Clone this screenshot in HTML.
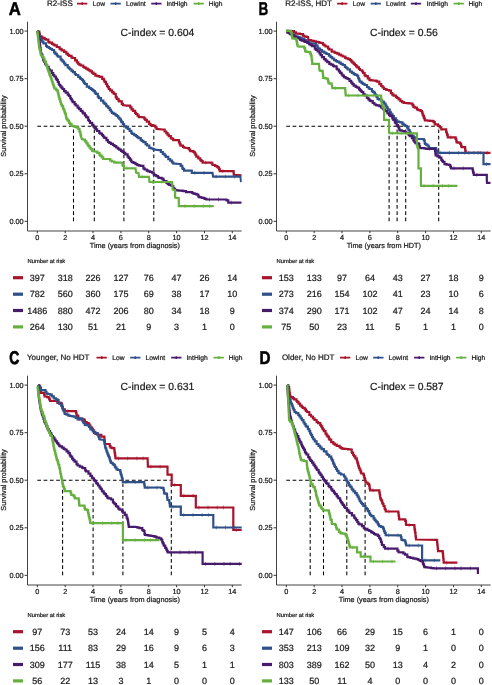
<!DOCTYPE html><html><head><meta charset="utf-8"><style>html,body{margin:0;padding:0;background:#fff;}svg{display:block;will-change:transform;text-rendering:geometricPrecision}</style></head><body><svg width="492" height="685" viewBox="0 0 492 685" font-family="Liberation Sans, sans-serif">
<defs><clipPath id="clip"><rect x="27.3" y="21.7" width="214.4" height="209.1"/></clipPath></defs>
<rect width="492" height="685" fill="#fff"/>
<style>.p text{stroke:currentColor;stroke-width:0.22px}</style>
<g class="p" transform="translate(0,0)" style="color:#1a1a1a">
<path d="M27.5 21.7V231H241.7" fill="none" stroke="#444" stroke-width="1"/>
<path d="M24.6 221.3H27.5" stroke="#333" stroke-width="1"/>
<text x="23.6" y="223.8" font-size="7.3" text-anchor="end" fill="#222">0.00</text>
<path d="M24.6 173.8H27.5" stroke="#333" stroke-width="1"/>
<text x="23.6" y="176.2" font-size="7.3" text-anchor="end" fill="#222">0.25</text>
<path d="M24.6 126.2H27.5" stroke="#333" stroke-width="1"/>
<text x="23.6" y="128.7" font-size="7.3" text-anchor="end" fill="#222">0.50</text>
<path d="M24.6 78.7H27.5" stroke="#333" stroke-width="1"/>
<text x="23.6" y="81.2" font-size="7.3" text-anchor="end" fill="#222">0.75</text>
<path d="M24.6 31.1H27.5" stroke="#333" stroke-width="1"/>
<text x="23.6" y="33.6" font-size="7.3" text-anchor="end" fill="#222">1.00</text>
<path d="M37.3 231V233.2" stroke="#333" stroke-width="1"/>
<text x="37.3" y="240.1" font-size="7.3" text-anchor="middle" fill="#222">0</text>
<path d="M65.2 231V233.2" stroke="#333" stroke-width="1"/>
<text x="65.2" y="240.1" font-size="7.3" text-anchor="middle" fill="#222">2</text>
<path d="M93 231V233.2" stroke="#333" stroke-width="1"/>
<text x="93" y="240.1" font-size="7.3" text-anchor="middle" fill="#222">4</text>
<path d="M120.9 231V233.2" stroke="#333" stroke-width="1"/>
<text x="120.9" y="240.1" font-size="7.3" text-anchor="middle" fill="#222">6</text>
<path d="M148.7 231V233.2" stroke="#333" stroke-width="1"/>
<text x="148.7" y="240.1" font-size="7.3" text-anchor="middle" fill="#222">8</text>
<path d="M176.6 231V233.2" stroke="#333" stroke-width="1"/>
<text x="176.6" y="240.1" font-size="7.3" text-anchor="middle" fill="#222">10</text>
<path d="M204.5 231V233.2" stroke="#333" stroke-width="1"/>
<text x="204.5" y="240.1" font-size="7.3" text-anchor="middle" fill="#222">12</text>
<path d="M232.3 231V233.2" stroke="#333" stroke-width="1"/>
<text x="232.3" y="240.1" font-size="7.3" text-anchor="middle" fill="#222">14</text>
<text x="134.8" y="248.3" font-size="7.3" text-anchor="middle" fill="#1a1a1a">Time (years from diagnosis)</text>
<text transform="translate(6.4,126) rotate(-90)" x="0" y="0" font-size="7.3" text-anchor="middle" fill="#1a1a1a">Survival probability</text>
<text x="47" y="6.4" font-size="8" fill="#1a1a1a">R2-ISS</text>
<path d="M77 3.6h10.3M82.2 2.3v2.6" stroke="#a8142c" stroke-width="1.6"/>
<text x="92.8" y="6.4" font-size="6.7" fill="#1a1a1a">Low</text>
<path d="M110.5 3.6h10.3M115.7 2.3v2.6" stroke="#2f5088" stroke-width="1.6"/>
<text x="126" y="6.4" font-size="6.7" fill="#1a1a1a">LowInt</text>
<path d="M151.2 3.6h10.3M156.3 2.3v2.6" stroke="#481a6c" stroke-width="1.6"/>
<text x="166.4" y="6.4" font-size="6.7" fill="#1a1a1a">IntHigh</text>
<path d="M193.5 3.6h10.3M198.7 2.3v2.6" stroke="#66b03f" stroke-width="1.6"/>
<text x="208.8" y="6.4" font-size="6.7" fill="#1a1a1a">High</text>
<text x="120.6" y="36.1" font-size="10.4" fill="#1a1a1a">C-index = 0.604</text>
<path d="M37.3 126.2H153.8" stroke="#000" stroke-width="1.05" stroke-dasharray="3.7 2.6" fill="none"/>
<path d="M73.5 221.3V126.2" stroke="#000" stroke-width="1.05" stroke-dasharray="3.7 2.6" fill="none"/>
<path d="M94.3 221.3V126.2" stroke="#000" stroke-width="1.05" stroke-dasharray="3.7 2.6" fill="none"/>
<path d="M123.9 221.3V126.2" stroke="#000" stroke-width="1.05" stroke-dasharray="3.7 2.6" fill="none"/>
<path d="M153.8 221.3V126.2" stroke="#000" stroke-width="1.05" stroke-dasharray="3.7 2.6" fill="none"/>
<g clip-path="url(#clip)">
<path d="M37.3 31.1 39.1 31.7 39.3 31.7 39.3 33 39.5 33 39.5 34 39.8 34 39.8 36 40.6 36 40.6 36.6 42.2 36.6 42.2 37.8 44.6 37.8 44.6 39 45.9 39 45.9 39.6 48.4 39.6 48.4 41.8 49.5 41.8 49.5 42.7 51.9 42.7 51.9 43.9 53.2 43.9 53.2 44.5 54.5 44.5 54.5 45.4 56.8 45.4 56.8 47 59.5 47 59.5 48.7 60.5 48.7 60.5 49.4 61.8 49.4 61.8 50.3 64.1 50.3 64.1 51.8 66.3 51.8 66.3 53.6 67.8 53.6 67.8 54.9 69.1 54.9 69.1 55.8 71.5 55.8 71.5 57.3 72.4 57.3 72.4 58 75.1 58 75.1 60.4 76.9 60.4 76.9 62.4 78.3 62.4 78.3 64 79.3 64 79.3 64.6 80.7 64.6 80.7 65.5 83.3 65.5 83.3 67 84.4 67 84.4 67.7 86 67.7 86 68.6 87.7 68.6 87.7 69.7 89 69.7 89 70.4 90.5 70.4 90.5 71.3 92 71.3 92 72.6 93.4 72.6 93.4 73.9 95.4 73.9 95.4 75.6 97.4 75.6 97.4 76.1 98.9 76.1 98.9 76.5 100.2 76.5 100.2 76.8 102.2 76.8 102.2 78.8 103.9 78.8 103.9 80.5 104.6 80.5 104.6 81.8 105.9 81.8 105.9 84 107.1 84 107.1 86 107.8 86 107.8 87.2 108.8 87.2 108.8 89 110.1 89 110.1 90.3 112 90.3 112 92.2 113.5 92.2 113.5 93.3 114.4 93.3 114.4 94 115.7 94 115.7 96.6 116.1 96.6 116.1 97.4 116.8 97.4 116.8 98.9 118.5 98.9 118.5 100.6 119.3 100.6 119.3 101.3 121.8 101.3 121.8 103.8 122.9 103.8 122.9 105 126.6 105.6 129 105.6 130.2 105.6 130.2 107.4 131.5 107.4 131.5 109.3 133 109.3 133 110.8 135.1 110.8 135.1 112.9 136 112.9 136 114 137.5 114 137.5 115.7 138.8 115.7 138.8 117.2 142.4 117.2 143.2 117.3 144.3 117.3 144.3 118.7 145.3 118.7 145.3 119.8 146.8 119.8 146.8 121.6 149.1 121.6 149.1 123.8 150.5 123.8 150.5 125.2 153.1 125.2 153.1 125.7 154.1 125.7 154.1 125.9 155.4 125.9 155.4 127.4 156.6 127.4 156.6 128.9 162.7 129.5 164.6 129.5 164.6 131.5 166.3 131.5 166.3 133.2 167.5 133.2 167.5 134.6 168.8 134.6 168.8 136.2 170.8 136.2 170.8 138.1 171.6 138.1 171.6 138.7 173.2 138.7 173.2 140.2 178 140.2 178.9 140.2 178.9 142.3 179.8 142.3 179.8 144.1 180.5 144.1 180.5 145.7 183 145.7 183 147 184.1 147 184.1 147.6 187.8 148.2 188.9 148.2 188.9 149.5 190.2 149.5 190.2 151.2 193 151.2 193 151.6 193.9 151.6 193.9 151.8 194.6 151.8 194.6 153.1 195.3 153.1 195.3 154.6 196.3 154.6 196.3 156.7 198.3 156.7 198.3 158.4 200.3 158.4 200.3 160.1 201.4 160.1 201.4 161.2 202.7 161.2 202.7 162.6 211.3 162.6 211.7 162.6 211.7 163.5 212.5 163.5 212.5 165 215.1 165 215.1 165.9 216.1 165.9 216.1 166.2 217.3 166.2 217.3 167.1 218.6 167.1 218.6 168 219.1 168 219.1 169.3 219.8 169.3 219.8 171.1 233.2 171.1 233.6 171.1 233.6 173.3 233.8 173.3 233.8 174.8 241.7 175.4" fill="none" stroke="#a8142c" stroke-width="2.2" stroke-linejoin="miter"/>
<path d="M205.7 160.7v3.8M222.8 169.2v3.8" stroke="#a8142c" stroke-width="0.6" fill="none"/>
<path d="M37.3 31.1 37.5 31.1 37.5 31.7 38 31.7 38 33.1 38.4 33.1 38.4 34.4 39 34.4 39 36 39.8 36 39.8 38.4 41.1 38.4 41.1 40.2 42.2 40.2 42.2 41.6 43.4 41.6 43.4 43.3 46.1 43.3 46.1 46 47.1 46 47.1 47 48.8 47 48.8 48 50.3 48 50.3 49 52 49 52 50 54.1 50 54.1 52.4 55.4 52.4 55.4 53.9 56.8 53.9 56.8 55.5 58 55.5 58 56.7 60.6 56.7 60.6 59.3 61.7 59.3 61.7 60.4 62.7 60.4 62.7 61.7 64.1 61.7 64.1 63.5 65.4 63.5 65.4 65.2 67.7 65.2 67.7 67.3 69.1 67.3 69.1 68.5 70.2 68.5 70.2 69.5 71.6 69.5 71.6 70.8 72.9 70.8 72.9 72.1 74.9 72.1 74.9 74 75.9 74 75.9 75 78.2 75 78.2 76.8 80 76.8 80 78.3 80.9 78.3 80.9 79 82 79 82 79.9 83.1 79.9 83.1 81.4 84.2 81.4 84.2 83 84.9 83 84.9 84 86.8 84 86.8 86.6 89.2 86.6 89.2 88 90.7 88 90.7 88.9 92.1 88.9 92.1 89.8 92.9 89.8 92.9 90.2 93.6 90.2 93.6 91.1 94.8 91.1 94.8 92.6 95.8 92.6 95.8 93.8 97.8 93.8 97.8 96.3 98.5 96.3 98.5 97.3 99.1 97.3 99.1 98.1 101 98.1 101 100.7 103.3 100.7 103.3 102.7 104.6 102.7 104.6 103.8 106.1 103.8 106.1 105.6 106.8 105.6 106.8 106.3 108.3 106.3 108.3 108 109.7 108 109.7 109.8 110.9 109.8 110.9 111.5 112 111.5 112 112.9 113.6 112.9 113.6 113.9 115.5 113.9 115.5 115.1 116.8 115.1 116.8 116 118.1 116 118.1 117.5 119.2 117.5 119.2 118.7 120.5 118.7 120.5 120.2 121.1 120.2 121.1 121.3 121.7 121.3 121.7 122.2 122.8 122.2 122.8 124.1 124.1 124.1 124.1 126.3 126 126.3 126 127.6 127.8 127.6 127.8 128.8 129.6 128.8 129.6 130.9 131.3 130.9 131.3 132.8 132.2 132.8 132.2 133.8 134.2 133.8 134.2 135.1 135.9 135.1 135.9 136.2 137.2 136.2 137.2 137.2 138.5 137.2 138.5 138.2 140.7 138.2 140.7 139.9 141.7 139.9 141.7 140.8 143.4 140.8 143.4 142.2 145.6 142.2 145.6 144.1 147 144.1 147 145.5 149.3 145.5 149.3 147.8 151.2 147.8 151.2 148.5 153.1 148.5 153.1 149.2 154.1 149.2 154.1 149.6 159 150.2 160.9 150.2 160.9 152 162.8 152 162.8 153.8 164.6 153.8 164.6 155.5 165.9 155.5 165.9 156.8 168.3 156.8 168.3 159.1 170.2 159.1 170.2 160.7 172 160.7 172 162.3 173.2 162.3 173.2 163.4 179.3 164 180.7 164 180.7 165.9 182.3 165.9 182.3 168.1 182.9 168.1 182.9 168.9 184.1 168.9 184.1 170.7 190.2 170.7 191.8 170.7 191.8 172.9 212.5 172.9 213.1 176.6 240.5 176.6 241.1 182.1" fill="none" stroke="#2f5088" stroke-width="2.2" stroke-linejoin="miter"/>
<path d="M194.8 171v3.8M204 171v3.8M216.1 174.7v3.8M225.3 174.7v3.8M234.5 174.7v3.8" stroke="#2f5088" stroke-width="0.6" fill="none"/>
<path d="M37.3 31.1 37.7 31.1 37.7 33.1 38.2 33.1 38.2 35.1 38.5 35.1 38.5 36.6 38.7 36.6 38.7 37.5 39.1 37.5 39.1 39.6 39.3 39.6 39.3 40.8 39.6 40.8 39.6 42.9 39.9 42.9 39.9 45.2 40.1 45.2 40.1 46.5 40.3 46.5 40.3 47.9 40.6 47.9 40.6 50.2 40.9 50.2 40.9 52.1 41 52.1 41 53 41.3 53 41.3 53.9 41.6 53.9 41.6 54.8 42.4 54.8 42.4 57.2 43.1 57.2 43.1 59.5 43.4 59.5 43.4 60.4 44.2 60.4 44.2 62 45.2 62 45.2 63.8 45.9 63.8 45.9 65.2 47.1 65.2 47.1 66.9 48.7 66.9 48.7 69 49.5 69 49.5 70.1 50 70.1 50 70.7 51.8 70.7 51.8 73.2 53.2 73.2 53.2 75 54.3 75 54.3 76.5 55.8 76.5 55.8 78.6 56.8 78.6 56.8 79.9 57.8 79.9 57.8 82 58.8 82 58.8 84 59.3 84 59.3 85 60.3 85 60.3 86.3 61.4 86.3 61.4 87.7 62.5 87.7 62.5 89 64.1 89 64.1 91.1 65.7 91.1 65.7 92.7 67.7 92.7 67.7 94.7 69 94.7 69 96 70.3 96 70.3 98.1 71 98.1 71 99.2 71.8 99.2 71.8 100.6 72.7 100.6 72.7 102.1 74.6 102.1 74.6 104.2 75.7 104.2 75.7 105.5 77.6 105.5 77.6 107.6 79.2 107.6 79.2 109.2 80.8 109.2 80.8 110.8 82.4 110.8 82.4 112.4 83.2 112.4 83.2 113.3 84.9 113.3 84.9 115.3 86.1 115.3 86.1 116.7 86.6 116.7 86.6 117.4 88.2 117.4 88.2 119.9 88.9 119.9 88.9 121 90 121 90 122.8 92.2 122.8 92.2 124.9 93.5 124.9 93.5 126.6 94.5 126.6 94.5 127.8 95.8 127.8 95.8 129.4 97.1 129.4 97.1 131 99.3 131 99.3 132.9 100.2 132.9 100.2 133.7 102 133.7 102 135.2 103.1 135.2 103.1 136.5 104.3 136.5 104.3 137.8 106.4 137.8 106.4 140.2 108 140.2 108 142 109.4 142 109.4 142.8 111 142.8 111 143.8 112.9 143.8 112.9 145 114.4 145 114.4 146.1 116.2 146.1 116.2 147.5 117.8 147.5 117.8 148.7 119.3 148.7 119.3 149.7 121 149.7 121 150.9 122.4 150.9 122.4 151.9 123.9 151.9 123.9 152.9 125.3 152.9 125.3 154.3 127.6 154.3 127.6 156.6 128.7 156.6 128.7 158 129.9 158 129.9 159.7 131.2 159.7 131.2 161.5 132.1 161.5 132.1 162.1 133.5 162.1 133.5 162.9 135.5 162.9 135.5 164.1 137.3 164.1 137.3 165.2 139.2 165.2 139.2 165.6 141 165.6 141 165.9 143.4 165.9 143.4 168.3 144.6 168.3 144.6 169.5 146.8 169.5 146.8 170.6 148.3 170.6 148.3 171.3 150.1 171.3 150.1 171.9 152 171.9 152 172.6 153.7 172.6 153.7 174.3 154.4 174.3 154.4 175 156.2 175 156.2 176.2 158 176.2 158 177.4 159 177.4 159 177.8 161.7 177.8 161.7 178.7 163.4 178.7 163.4 180.4 164.1 180.4 164.1 181.1 166.5 181.1 166.5 183 167.8 183 167.8 184.1 169.2 184.1 169.2 184.8 171.5 184.8 171.5 186 173.2 186 173.2 188 174 188 174 188.9 175.1 188.9 175.1 190.2 176.7 190.2 176.7 190.4 178.1 190.4 178.1 190.5 179.1 190.5 179.1 190.6 180.3 190.6 180.3 190.7 182.4 190.7 182.4 190.9 183.5 190.9 183.5 191.2 186.1 191.2 186.1 192.1 190.5 192.1 192.2 192.1 192.2 193 193 193 193 193.4 194.5 193.4 194.5 193.9 196.6 193.9 196.6 194.6 198.3 194.6 198.3 196.3 199.1 196.3 199.1 197.1 200.8 197.1 200.8 197.5 202.3 197.5 202.3 197.9 204 197.9 204 198.3 205 198.3 205 198.8 206.4 198.8 206.4 199.5 225.9 199.5 226.5 199.5 226.5 200.3 228.3 200.3 228.3 202.6 241.7 202.6" fill="none" stroke="#481a6c" stroke-width="2.2" stroke-linejoin="miter"/>
<path d="M209.4 197.6v3.8M218.6 197.6v3.8M231.3 200.7v3.8" stroke="#481a6c" stroke-width="0.6" fill="none"/>
<path d="M37.3 31.1 37.4 31.1 37.4 32.3 37.5 32.3 37.5 33.2 37.7 33.2 37.7 34.7 37.9 34.7 37.9 37.2 38.2 37.2 38.2 39.3 38.3 39.3 38.3 40.4 38.4 40.4 38.4 41.2 38.7 41.2 38.7 43.5 38.9 43.5 38.9 45.1 39.1 45.1 39.1 47 39.4 47 39.4 48.2 39.6 48.2 39.6 49.3 40.3 49.3 40.3 52.2 40.7 52.2 40.7 54.4 41 54.4 41 55.5 42.4 55.5 42.4 57.2 43.4 57.2 43.4 58.5 44.4 58.5 44.4 60.8 44.8 60.8 44.8 61.6 45.9 61.6 45.9 64 46.1 64 46.1 64.7 46.9 64.7 46.9 67 47.4 67 47.4 68.4 47.8 68.4 47.8 69.7 48.3 69.7 48.3 71.3 49.2 71.3 49.2 73.7 49.7 73.7 49.7 74.9 50.1 74.9 50.1 75.8 50.7 75.8 50.7 77.4 51.3 77.4 51.3 79.2 51.7 79.2 51.7 80.6 52.3 80.6 52.3 82.1 52.6 82.1 52.6 83.3 53.2 83.3 53.2 85 53.2 85 53.8 85 53.8 86.9 54.4 86.9 54.4 88.7 56.3 88.7 56.3 90.2 57.4 90.2 57.4 91.1 57.9 91.1 57.9 93.2 58.3 93.2 58.3 94.4 58.7 94.4 58.7 96.1 58.9 96.1 58.9 97 59.3 97 59.3 98.4 59.5 98.4 59.5 99.2 60.2 99.2 60.2 101.5 60.8 101.5 60.8 103.4 61.1 103.4 61.1 104.5 61.9 104.5 61.9 106.1 63.1 106.1 63.1 108.5 63.5 108.5 63.5 109.4 64.3 109.4 64.3 111.5 64.8 111.5 64.8 112.8 65.4 112.8 65.4 114.3 65.9 114.3 65.9 116.4 66.2 116.4 66.2 117.6 66.6 117.6 66.6 119.1 67.6 119.1 67.6 120.7 69 120.7 69 122.8 69.9 122.8 69.9 123.9 71.5 123.9 71.5 125.9 73.4 125.9 73.4 126.4 75.1 126.4 75.1 127 76.4 127 76.4 127.3 77.6 127.3 77.6 127.7 78.4 127.7 78.4 129.1 79.4 129.1 79.4 130.7 79.7 130.7 79.7 131.8 80.4 131.8 80.4 134.6 80.9 134.6 80.9 136.1 81.2 136.1 81.2 137.4 81.8 138.9 82.6 138.9 82.6 139.5 84.9 139.5 84.9 141.3 86.4 141.3 86.4 143.4 87.7 143.4 87.7 145.1 88.5 145.1 88.5 146.2 89.6 146.2 89.6 147.6 90.7 147.6 90.7 149.2 92.2 149.2 92.2 151.1 95.9 151.7 97.3 151.7 97.3 152.9 99.5 152.9 99.5 154.8 100.2 154.8 100.2 155.6 101.7 155.6 101.7 157.3 103.2 157.3 103.2 159 108 159 110.2 159 110.2 160.5 111.7 160.5 111.7 161.5 114.2 161.5 114.2 162.3 115.4 162.3 115.4 162.7 121.5 162.7 122.5 162.7 122.5 164.9 122.9 164.9 122.9 165.9 123.9 165.9 123.9 168.2 135.5 168.3 136.1 172.6 138.5 173.2 139.1 176.8 148.9 176.8 149.5 182 172.1 182 172.7 189.6 175.1 190.2 175.1 197.6 178.8 198.2 178.8 206.1 182 206.1 213.7 206.1" fill="none" stroke="#66b03f" stroke-width="2.2" stroke-linejoin="miter"/>
<path d="M126.9 166.3v3.8M142.1 174.9v3.8M152.5 180.1v3.8M161.7 180.1v3.8M185 204.2v3.8M194.2 204.2v3.8M203.4 204.2v3.8M209.6 204.2v3.8" stroke="#66b03f" stroke-width="0.6" fill="none"/>
</g>
<text x="27.5" y="262.6" font-size="5.8" fill="#1a1a1a">Number at risk</text>
<path d="M13 277.7h10" stroke="#a8142c" stroke-width="3.2"/>
<text x="37.3" y="280.9" font-size="9" text-anchor="middle" fill="#1a1a1a">397</text>
<text x="65.2" y="280.9" font-size="9" text-anchor="middle" fill="#1a1a1a">318</text>
<text x="93" y="280.9" font-size="9" text-anchor="middle" fill="#1a1a1a">226</text>
<text x="120.9" y="280.9" font-size="9" text-anchor="middle" fill="#1a1a1a">127</text>
<text x="148.7" y="280.9" font-size="9" text-anchor="middle" fill="#1a1a1a">76</text>
<text x="176.6" y="280.9" font-size="9" text-anchor="middle" fill="#1a1a1a">47</text>
<text x="204.5" y="280.9" font-size="9" text-anchor="middle" fill="#1a1a1a">26</text>
<text x="232.3" y="280.9" font-size="9" text-anchor="middle" fill="#1a1a1a">14</text>
<path d="M13 294.2h10" stroke="#2f5088" stroke-width="3.2"/>
<text x="37.3" y="297.4" font-size="9" text-anchor="middle" fill="#1a1a1a">782</text>
<text x="65.2" y="297.4" font-size="9" text-anchor="middle" fill="#1a1a1a">560</text>
<text x="93" y="297.4" font-size="9" text-anchor="middle" fill="#1a1a1a">360</text>
<text x="120.9" y="297.4" font-size="9" text-anchor="middle" fill="#1a1a1a">175</text>
<text x="148.7" y="297.4" font-size="9" text-anchor="middle" fill="#1a1a1a">69</text>
<text x="176.6" y="297.4" font-size="9" text-anchor="middle" fill="#1a1a1a">38</text>
<text x="204.5" y="297.4" font-size="9" text-anchor="middle" fill="#1a1a1a">17</text>
<text x="232.3" y="297.4" font-size="9" text-anchor="middle" fill="#1a1a1a">10</text>
<path d="M13 310.5h10" stroke="#481a6c" stroke-width="3.2"/>
<text x="37.3" y="313.7" font-size="9" text-anchor="middle" fill="#1a1a1a">1486</text>
<text x="65.2" y="313.7" font-size="9" text-anchor="middle" fill="#1a1a1a">880</text>
<text x="93" y="313.7" font-size="9" text-anchor="middle" fill="#1a1a1a">472</text>
<text x="120.9" y="313.7" font-size="9" text-anchor="middle" fill="#1a1a1a">206</text>
<text x="148.7" y="313.7" font-size="9" text-anchor="middle" fill="#1a1a1a">80</text>
<text x="176.6" y="313.7" font-size="9" text-anchor="middle" fill="#1a1a1a">34</text>
<text x="204.5" y="313.7" font-size="9" text-anchor="middle" fill="#1a1a1a">18</text>
<text x="232.3" y="313.7" font-size="9" text-anchor="middle" fill="#1a1a1a">9</text>
<path d="M13 326.9h10" stroke="#66b03f" stroke-width="3.2"/>
<text x="37.3" y="330.1" font-size="9" text-anchor="middle" fill="#1a1a1a">264</text>
<text x="65.2" y="330.1" font-size="9" text-anchor="middle" fill="#1a1a1a">130</text>
<text x="93" y="330.1" font-size="9" text-anchor="middle" fill="#1a1a1a">51</text>
<text x="120.9" y="330.1" font-size="9" text-anchor="middle" fill="#1a1a1a">21</text>
<text x="148.7" y="330.1" font-size="9" text-anchor="middle" fill="#1a1a1a">9</text>
<text x="176.6" y="330.1" font-size="9" text-anchor="middle" fill="#1a1a1a">3</text>
<text x="204.5" y="330.1" font-size="9" text-anchor="middle" fill="#1a1a1a">1</text>
<text x="232.3" y="330.1" font-size="9" text-anchor="middle" fill="#1a1a1a">0</text>
</g>
<g class="p" transform="translate(249,0)" style="color:#1a1a1a">
<path d="M27.5 21.7V231H241.7" fill="none" stroke="#444" stroke-width="1"/>
<path d="M24.6 221.3H27.5" stroke="#333" stroke-width="1"/>
<text x="23.6" y="223.8" font-size="7.3" text-anchor="end" fill="#222">0.00</text>
<path d="M24.6 173.8H27.5" stroke="#333" stroke-width="1"/>
<text x="23.6" y="176.2" font-size="7.3" text-anchor="end" fill="#222">0.25</text>
<path d="M24.6 126.2H27.5" stroke="#333" stroke-width="1"/>
<text x="23.6" y="128.7" font-size="7.3" text-anchor="end" fill="#222">0.50</text>
<path d="M24.6 78.7H27.5" stroke="#333" stroke-width="1"/>
<text x="23.6" y="81.2" font-size="7.3" text-anchor="end" fill="#222">0.75</text>
<path d="M24.6 31.1H27.5" stroke="#333" stroke-width="1"/>
<text x="23.6" y="33.6" font-size="7.3" text-anchor="end" fill="#222">1.00</text>
<path d="M37.3 231V233.2" stroke="#333" stroke-width="1"/>
<text x="37.3" y="240.1" font-size="7.3" text-anchor="middle" fill="#222">0</text>
<path d="M65.2 231V233.2" stroke="#333" stroke-width="1"/>
<text x="65.2" y="240.1" font-size="7.3" text-anchor="middle" fill="#222">2</text>
<path d="M93 231V233.2" stroke="#333" stroke-width="1"/>
<text x="93" y="240.1" font-size="7.3" text-anchor="middle" fill="#222">4</text>
<path d="M120.9 231V233.2" stroke="#333" stroke-width="1"/>
<text x="120.9" y="240.1" font-size="7.3" text-anchor="middle" fill="#222">6</text>
<path d="M148.7 231V233.2" stroke="#333" stroke-width="1"/>
<text x="148.7" y="240.1" font-size="7.3" text-anchor="middle" fill="#222">8</text>
<path d="M176.6 231V233.2" stroke="#333" stroke-width="1"/>
<text x="176.6" y="240.1" font-size="7.3" text-anchor="middle" fill="#222">10</text>
<path d="M204.5 231V233.2" stroke="#333" stroke-width="1"/>
<text x="204.5" y="240.1" font-size="7.3" text-anchor="middle" fill="#222">12</text>
<path d="M232.3 231V233.2" stroke="#333" stroke-width="1"/>
<text x="232.3" y="240.1" font-size="7.3" text-anchor="middle" fill="#222">14</text>
<text x="134.8" y="248.3" font-size="7.3" text-anchor="middle" fill="#1a1a1a">Time (years from HDT)</text>
<text transform="translate(6.4,126) rotate(-90)" x="0" y="0" font-size="7.3" text-anchor="middle" fill="#1a1a1a">Survival probability</text>
<text x="36.2" y="6.4" font-size="8" fill="#1a1a1a">R2-ISS, HDT</text>
<path d="M88.1 3.6h10.3M93.2 2.3v2.6" stroke="#a8142c" stroke-width="1.6"/>
<text x="103.7" y="6.4" font-size="6.7" fill="#1a1a1a">Low</text>
<path d="M121.6 3.6h10.3M126.8 2.3v2.6" stroke="#2f5088" stroke-width="1.6"/>
<text x="137" y="6.4" font-size="6.7" fill="#1a1a1a">LowInt</text>
<path d="M161.8 3.6h10.3M167 2.3v2.6" stroke="#481a6c" stroke-width="1.6"/>
<text x="177.7" y="6.4" font-size="6.7" fill="#1a1a1a">IntHigh</text>
<path d="M204.6 3.6h10.3M209.8 2.3v2.6" stroke="#66b03f" stroke-width="1.6"/>
<text x="219.4" y="6.4" font-size="6.7" fill="#1a1a1a">High</text>
<text x="121" y="36.1" font-size="10.4" fill="#1a1a1a">C-index = 0.56</text>
<path d="M37.3 126.2H189.7" stroke="#000" stroke-width="1.05" stroke-dasharray="3.7 2.6" fill="none"/>
<path d="M140.1 221.3V126.2" stroke="#000" stroke-width="1.05" stroke-dasharray="3.7 2.6" fill="none"/>
<path d="M148.1 221.3V126.2" stroke="#000" stroke-width="1.05" stroke-dasharray="3.7 2.6" fill="none"/>
<path d="M156.7 221.3V126.2" stroke="#000" stroke-width="1.05" stroke-dasharray="3.7 2.6" fill="none"/>
<path d="M189.7 221.3V126.2" stroke="#000" stroke-width="1.05" stroke-dasharray="3.7 2.6" fill="none"/>
<g clip-path="url(#clip)">
<path d="M37.1 30.9 43.2 31.1 45 31.1 45 32.3 46.9 32.3 46.9 33.5 48.4 33.5 48.4 33.7 50.8 33.7 50.8 34 51.7 34 51.7 34.1 53.9 34.1 53.9 35.6 55.4 35.6 55.4 36.6 57.8 36.6 57.8 37 59 37 59 37.2 59.5 40 60.3 40 60.3 40.2 61.7 40.2 61.7 40.5 63 40.5 63 40.8 65 40.8 65 41.3 66.9 41.3 66.9 41.8 68.6 41.8 68.6 42.2 70.1 42.2 70.1 42.6 71.7 42.6 71.7 43 74 43 74 44.6 75.4 44.6 75.4 45.5 76.6 45.5 76.6 46.5 79 46.5 79 48.5 80.2 48.5 80.2 49.5 82.7 49.5 82.7 51.6 85.4 51.6 85.4 52.5 86.4 52.5 86.4 52.8 88.2 52.8 88.2 53.7 90 53.7 90 54.6 91.8 54.6 91.8 55.5 93.7 55.5 93.7 56.5 96.2 56.5 96.2 57.8 97.3 57.8 97.3 58.3 99.2 58.3 99.2 59.2 101 59.2 101 60.1 102.2 60.1 102.2 61.4 103.4 61.4 103.4 62.6 104.8 62.6 104.8 63.9 105.9 63.9 105.9 65 107.2 65 107.2 66.3 108.3 66.3 108.3 67.4 110 67.4 110 69 111 69 111 69.9 112.4 70.3 113.2 70.3 113.2 71.5 114.1 71.5 114.1 73 115.6 73 115.6 75.2 116.5 75.2 116.5 76.1 118.8 76.1 118.8 78.4 120.5 78.4 120.5 80.1 122.2 80.1 122.2 80.3 123.8 80.3 123.8 80.5 125.6 80.5 125.6 80.7 127 80.7 127 80.9 127.8 80.9 127.8 81.6 130.3 81.6 130.3 84.1 132.2 84.1 132.2 86 133.6 86 133.6 87.5 135.1 87.5 135.1 89 137.1 89 137.1 89.7 137.9 89.7 137.9 90 140 90 140 90.7 141.9 90.7 141.9 93.1 143.3 93.1 143.3 94.7 144.6 94.7 144.6 95.6 147 95.6 147 97.2 148.2 97.2 148.2 98 149.6 98 149.6 99.4 151.4 99.4 151.4 101.2 153.2 101.2 153.2 102.1 154.7 102.1 154.7 102.8 156.1 102.8 156.1 103 157.8 103 157.8 103.1 159.6 103.1 159.6 103.3 161.2 103.3 161.2 103.5 162.8 103.5 162.8 103.7 163.5 103.7 163.5 105.2 164.4 105.2 164.4 106.9 165.7 106.9 165.7 107.7 167.9 107.7 167.9 109.3 169.3 109.3 169.3 110.2 171.6 110.2 171.6 110.8 172.5 110.8 172.5 111 172.9 111 172.9 112.4 173.6 112.4 173.6 114.6 174.3 114.6 174.3 116.2 174.9 116.2 174.9 117.8 175.6 117.8 175.6 119.3 176 119.3 176 120.3 177.7 120.3 177.7 120.5 179.2 120.5 179.2 120.6 180.8 120.6 180.8 120.8 181.7 120.8 181.7 120.9 184.1 120.9 184.1 121.1 184.6 121.1 184.6 122.1 185.8 122.1 185.8 124.4 188.9 124.4 188.9 125.7 189.8 125.7 189.8 126 190.8 126 190.8 127.3 192.3 127.3 192.3 129.3 196.3 129.3 197.1 129.3 197.1 131.6 197.6 131.6 197.6 133 198 133 198 134.1 198.2 134.1 198.2 135.1 198.8 135.1 198.8 137.4 206.1 137.4 206.6 137.4 206.6 138.8 207.3 138.8 207.3 141.1 207.7 141.1 207.7 142.3 209 142.3 209 142.6 211 142.6 211 143.1 211.3 143.1 211.3 143.9 212.1 143.9 212.1 145.8 212.6 145.8 212.6 147.2 215.8 147.2 216.1 147.2 216.1 148.9 216.3 148.9 216.3 150.3 216.4 150.3 216.4 151.1 216.7 151.1 216.7 152.8 241.7 152.8" fill="none" stroke="#a8142c" stroke-width="2.2" stroke-linejoin="miter"/>
<path d="M201.8 135.5v3.8M219.7 150.9v3.8M228.9 150.9v3.8M238.1 150.9v3.8" stroke="#a8142c" stroke-width="0.6" fill="none"/>
<path d="M37.1 30.9 39 30.9 39 32.1 39.9 32.1 39.9 32.6 40.6 32.6 40.6 33.1 42.6 33.1 42.6 34.3 44.4 34.3 44.4 35.4 46 35.4 46 36 47.2 36 47.2 36.5 48.9 36.5 48.9 37.2 50.5 37.2 50.5 37.8 52.7 37.8 52.7 38.9 53.4 38.9 53.4 39.2 55.4 39.2 55.4 40.2 57.4 40.2 57.4 41.5 58.2 41.5 58.2 41.9 60.3 41.9 60.3 43.3 62 43.3 65.6 43.7 66.9 43.7 66.9 45.4 68.5 45.4 68.5 47.5 69.3 47.5 69.3 48.5 71.1 48.5 71.1 50 73 50 73 51.6 75.2 51.6 75.2 52.7 76.7 52.7 76.7 53.4 77.8 53.4 77.8 54 79.9 54 79.9 55.7 81.5 55.7 81.5 57.1 83.2 57.1 83.2 58.5 85.1 58.5 85.1 60.1 87 60.1 87 61.1 88 61.1 88 61.6 90 61.6 90 62.6 91.8 62.6 91.8 63.8 93.7 63.8 93.7 65 95.9 65 95.9 66.9 97.3 66.9 97.3 68 98.6 68 98.6 69.3 101 69.3 101 71.7 102.9 71.7 102.9 72.9 104.7 72.9 104.7 74.1 106.3 74.1 106.3 74.9 108.3 74.9 108.3 76 109.2 76 109.2 78 109.8 78 109.8 79.4 110.5 79.4 110.5 81.1 110.8 81.1 110.8 81.7 112.5 81.7 112.5 82.9 113.8 82.9 113.8 83.8 115.6 83.8 115.6 85 118 85 118 87 119.6 87 119.6 88.2 120.5 88.2 120.5 89 122.9 89 122.9 91 123.8 91 123.8 91.8 125.4 91.8 125.4 93.1 126 93.1 126 94.1 126.5 94.1 126.5 95.1 127.5 95.1 127.5 96.8 128.6 96.8 128.6 98.8 129.8 98.8 129.8 99.4 131.9 99.4 131.9 100.4 133.2 100.4 133.2 101.8 135.1 101.8 135.1 103.7 136.5 103.7 136.5 105.7 137.5 105.7 137.5 107.1 138.4 107.1 138.4 108.5 139.1 108.5 139.1 109.5 140.7 109.5 140.7 111.8 141.7 111.8 141.7 113.4 142.3 113.4 142.3 114.3 143.5 114.3 143.5 116.2 144.9 116.2 144.9 118.3 147 118.3 147 120.3 148.2 120.3 148.2 121.5 150 121.5 150 122 151.4 122 151.4 122.4 153.4 122.4 153.4 123.9 154.7 123.9 154.7 124.8 156.3 124.8 156.3 126 157.9 126 157.9 127.2 158.6 127.2 158.6 128.4 159.5 128.4 159.5 130 160.6 130 160.6 131.8 161.4 131.8 161.4 133.1 162.1 133.1 162.1 134.4 163 134.4 163 135.8 164.6 135.8 164.6 137.4 166.7 137.4 166.7 138.4 167.9 138.4 167.9 139 174.4 139 174.8 139 174.8 140.3 175.7 140.3 175.7 143 176 143 176 143.9 177.1 143.9 177.1 144.6 178.4 144.6 178.4 145.5 179.6 145.5 179.6 147.2 180.1 147.2 180.1 148 186.6 148 187.1 148 187.1 149.5 187.6 149.5 187.6 151 188.2 151 188.2 152.8 234.5 152.8 234.5 164.2 241.7 164.2" fill="none" stroke="#2f5088" stroke-width="2.2" stroke-linejoin="miter"/>
<path d="M191.2 150.9v3.8M200.4 150.9v3.8M209.6 150.9v3.8M215.8 150.9v3.8M225 150.9v3.8M231.2 150.9v3.8M237.5 162.3v3.8" stroke="#2f5088" stroke-width="0.6" fill="none"/>
<path d="M37.1 31.7 38.5 31.7 38.5 32.6 40.8 32.6 40.8 34.1 42.9 34.1 42.9 35.4 45 35.4 45 36.8 45.6 36.8 45.6 37.2 46.3 37.2 46.3 37.4 48.2 37.4 48.2 38.2 50.5 38.2 50.5 39 51 40 52.7 40 52.7 40.6 54.7 40.6 54.7 41.2 55.8 41.2 55.8 41.8 58.3 41.8 58.3 43 60 43 60 44.1 61.6 44.1 61.6 45.1 63.2 45.1 63.2 46.1 65.8 46.1 65.8 48.7 66.9 48.7 66.9 49.8 68.6 49.8 68.6 51.5 70.5 51.5 70.5 53.4 71.6 53.4 71.6 55.1 73 55.1 73 57.1 75 57.1 75 59.1 76.6 59.1 76.6 60.7 78.3 60.7 78.3 62.2 80.3 62.2 80.3 63.8 82 63.8 82 64.6 83.9 64.6 83.9 65.6 84.8 65.6 84.8 66.4 87.6 66.4 87.6 68.7 88.3 68.7 88.3 69.5 89.9 69.5 89.9 71.4 91.2 71.4 91.2 72.9 92.6 72.9 92.6 74.5 93.6 74.5 93.6 75.7 94.9 75.7 94.9 77.2 96.7 77.2 96.7 78.1 98.6 78.1 98.6 79 100.5 79 100.5 80.9 102.2 80.9 102.2 82.7 103.4 82.7 103.4 84.2 104.7 84.2 104.7 85.7 106.7 85.7 106.7 86.8 108.3 86.8 108.3 87.6 110.1 87.6 110.1 89.2 110.8 89.2 110.8 89.8 111.6 89.8 111.6 90.8 112.7 90.8 112.7 92 114.3 92 114.3 94 115.6 94 115.6 95.5 117.9 95.5 117.9 97.8 119.4 97.8 119.4 99.3 120.5 99.3 120.5 100.4 121.5 100.4 121.5 101.2 123.7 101.2 123.7 103 125.4 103 125.4 104.5 127.1 104.5 127.1 105.1 128.1 105.1 128.1 105.4 130.3 105.4 130.3 106.1 132.1 106.1 132.1 107.5 133.5 107.5 133.5 108.5 134.5 108.5 134.5 109.5 136.2 109.5 136.2 111.2 138.4 111.2 138.4 113.4 140.1 113.4 140.1 115.1 141.2 115.1 141.2 116.2 143.3 116.2 143.3 118.3 144.3 118.3 144.3 119.9 145.8 119.9 145.8 122.1 146.5 122.1 146.5 123.2 147.7 123.2 147.7 125 148.9 125 148.9 126.7 149.8 126.7 149.8 128 150 128 150 128.7 150.5 128.7 150.5 130.4 151.4 130.4 152.8 130.4 152.8 131 155.3 131 155.3 132.1 156.6 132.1 156.6 132.7 157.8 132.7 157.8 133.2 159.7 133.2 159.7 135 160.8 135 160.8 136.1 163 136.1 163 138.2 164.4 138.2 164.4 140.3 165.3 140.3 165.3 141.7 166.3 141.7 166.3 143.1 167.7 143.1 167.7 143.4 169.5 143.4 169.5 143.9 170.3 143.9 170.3 146 170.6 146 170.6 146.8 171.1 146.8 171.1 148 172.4 148 172.4 148.2 175.5 148.2 175.5 148.5 176.7 148.5 176.7 148.7 177.6 148.7 177.6 148.8 185.8 148.8 185.9 148.8 185.9 149.5 186.1 149.5 186.1 150.8 186.3 150.8 186.3 153.1 186.6 153.1 186.6 155.3 188.4 155.3 188.4 156.4 190.6 156.4 190.6 157.7 192.3 157.7 192.3 159.8 193.2 159.8 193.2 160.9 193.9 160.9 193.9 161.8 195.5 161.8 195.5 164.2 197.7 164.2 197.7 164.6 198.4 164.6 198.4 164.7 200.4 164.7 200.4 165 201.2 165 201.2 166.7 202 166.7 202 168.3 223.2 168.3 223.7 168.3 223.7 170.3 224.1 170.3 224.1 171.9 224.3 171.9 224.3 172.9 224.8 172.9 224.8 174.8 237.8 174.8 237.8 180 238 182.8 241.7 182.8" fill="none" stroke="#481a6c" stroke-width="2.2" stroke-linejoin="miter"/>
<path d="M180.6 146.9v3.8M205 166.4v3.8M214.2 166.4v3.8M227.8 172.9v3.8" stroke="#481a6c" stroke-width="0.6" fill="none"/>
<path d="M37.1 30.9 41.4 30.9 41.8 30.9 41.8 32.3 42.6 32.3 42.6 34.8 42.8 34.8 42.8 35.7 43.2 35.7 43.2 38.4 44.8 38.4 44.8 38.7 46.9 38.7 46.9 39 47.4 39 47.4 41 47.9 41 47.9 43 48.2 43 48.2 44.3 48.4 44.3 48.4 44.9 48.7 44.9 48.7 46.3 51 46.7 54.7 46.7 55.2 46.7 55.2 48.1 56.1 48.1 56.1 50.6 56.5 50.6 56.5 51.6 57.8 51.6 57.8 51.8 60.1 51.8 60.1 52.1 60.8 52.1 60.8 52.2 61.2 52.2 61.2 53.6 61.9 53.6 61.9 55.7 62.6 55.7 62.6 57.7 62.7 57.7 62.7 58.7 62.8 58.7 62.8 59.6 62.9 59.6 62.9 60.6 63.2 60.6 63.2 63.8 69.9 63.8 70.5 70.5 71.6 70.5 71.6 70.9 73.6 70.9 73.6 71.7 73.8 71.7 73.8 73.7 73.9 73.7 73.9 74.8 74 74.8 74 75.7 74.2 75.7 74.2 77.8 75.7 77.8 75.7 78.2 76.7 78.2 76.7 78.5 78.4 78.5 78.4 79 78.9 79 78.9 80.8 79.4 80.8 79.4 82.4 79.7 82.4 79.7 83.3 81.1 83.3 81.1 83.6 82.7 83.6 82.7 83.9 83.3 88.2 96.1 88.2 96.2 88.2 96.2 90 96.4 90 96.4 92.3 96.5 92.3 96.5 93 96.6 93 96.6 94 96.7 94 96.7 95.5 131.9 95.5 132.1 95.5 132.1 97.6 132.3 97.6 132.3 99.7 132.4 99.7 132.4 100.9 132.5 100.9 132.5 101.9 132.6 101.9 132.6 103.1 132.7 103.1 132.7 104.5 133.7 104.5 133.7 106.6 134.2 106.6 134.2 107.4 135.1 107.4 135.1 109.3 135.1 119.9 140 119.9 140 130 140.4 133.2 163 133.3 167.9 133.3 167.9 145.5 168.4 145.5 168.4 147.1 169 147.1 169 148.8 169.5 148.8 169.5 150.4 169.5 168.3 171.9 168.3 171.9 180 172 185.8 208.4 185.8" fill="none" stroke="#66b03f" stroke-width="2.2" stroke-linejoin="miter"/>
<path d="M86.3 86.3v3.8M99.7 93.6v3.8M108.9 93.6v3.8M118.1 93.6v3.8M124.3 93.6v3.8M143.4 131.3v3.8M152.6 131.3v3.8M175 183.9v3.8M184.2 183.9v3.8M193.4 183.9v3.8M199.6 183.9v3.8" stroke="#66b03f" stroke-width="0.6" fill="none"/>
</g>
<text x="27.5" y="262.6" font-size="5.8" fill="#1a1a1a">Number at risk</text>
<path d="M13 277.7h10" stroke="#a8142c" stroke-width="3.2"/>
<text x="37.3" y="280.9" font-size="9" text-anchor="middle" fill="#1a1a1a">153</text>
<text x="65.2" y="280.9" font-size="9" text-anchor="middle" fill="#1a1a1a">133</text>
<text x="93" y="280.9" font-size="9" text-anchor="middle" fill="#1a1a1a">97</text>
<text x="120.9" y="280.9" font-size="9" text-anchor="middle" fill="#1a1a1a">64</text>
<text x="148.7" y="280.9" font-size="9" text-anchor="middle" fill="#1a1a1a">43</text>
<text x="176.6" y="280.9" font-size="9" text-anchor="middle" fill="#1a1a1a">27</text>
<text x="204.5" y="280.9" font-size="9" text-anchor="middle" fill="#1a1a1a">18</text>
<text x="232.3" y="280.9" font-size="9" text-anchor="middle" fill="#1a1a1a">9</text>
<path d="M13 294.2h10" stroke="#2f5088" stroke-width="3.2"/>
<text x="37.3" y="297.4" font-size="9" text-anchor="middle" fill="#1a1a1a">273</text>
<text x="65.2" y="297.4" font-size="9" text-anchor="middle" fill="#1a1a1a">216</text>
<text x="93" y="297.4" font-size="9" text-anchor="middle" fill="#1a1a1a">154</text>
<text x="120.9" y="297.4" font-size="9" text-anchor="middle" fill="#1a1a1a">102</text>
<text x="148.7" y="297.4" font-size="9" text-anchor="middle" fill="#1a1a1a">41</text>
<text x="176.6" y="297.4" font-size="9" text-anchor="middle" fill="#1a1a1a">23</text>
<text x="204.5" y="297.4" font-size="9" text-anchor="middle" fill="#1a1a1a">10</text>
<text x="232.3" y="297.4" font-size="9" text-anchor="middle" fill="#1a1a1a">6</text>
<path d="M13 310.5h10" stroke="#481a6c" stroke-width="3.2"/>
<text x="37.3" y="313.7" font-size="9" text-anchor="middle" fill="#1a1a1a">374</text>
<text x="65.2" y="313.7" font-size="9" text-anchor="middle" fill="#1a1a1a">290</text>
<text x="93" y="313.7" font-size="9" text-anchor="middle" fill="#1a1a1a">171</text>
<text x="120.9" y="313.7" font-size="9" text-anchor="middle" fill="#1a1a1a">102</text>
<text x="148.7" y="313.7" font-size="9" text-anchor="middle" fill="#1a1a1a">47</text>
<text x="176.6" y="313.7" font-size="9" text-anchor="middle" fill="#1a1a1a">24</text>
<text x="204.5" y="313.7" font-size="9" text-anchor="middle" fill="#1a1a1a">14</text>
<text x="232.3" y="313.7" font-size="9" text-anchor="middle" fill="#1a1a1a">8</text>
<path d="M13 326.9h10" stroke="#66b03f" stroke-width="3.2"/>
<text x="37.3" y="330.1" font-size="9" text-anchor="middle" fill="#1a1a1a">75</text>
<text x="65.2" y="330.1" font-size="9" text-anchor="middle" fill="#1a1a1a">50</text>
<text x="93" y="330.1" font-size="9" text-anchor="middle" fill="#1a1a1a">23</text>
<text x="120.9" y="330.1" font-size="9" text-anchor="middle" fill="#1a1a1a">11</text>
<text x="148.7" y="330.1" font-size="9" text-anchor="middle" fill="#1a1a1a">5</text>
<text x="176.6" y="330.1" font-size="9" text-anchor="middle" fill="#1a1a1a">1</text>
<text x="204.5" y="330.1" font-size="9" text-anchor="middle" fill="#1a1a1a">1</text>
<text x="232.3" y="330.1" font-size="9" text-anchor="middle" fill="#1a1a1a">0</text>
</g>
<g class="p" transform="translate(0,354)" style="color:#1a1a1a">
<path d="M27.5 21.7V231H241.7" fill="none" stroke="#444" stroke-width="1"/>
<path d="M24.6 221.3H27.5" stroke="#333" stroke-width="1"/>
<text x="23.6" y="223.8" font-size="7.3" text-anchor="end" fill="#222">0.00</text>
<path d="M24.6 173.8H27.5" stroke="#333" stroke-width="1"/>
<text x="23.6" y="176.2" font-size="7.3" text-anchor="end" fill="#222">0.25</text>
<path d="M24.6 126.2H27.5" stroke="#333" stroke-width="1"/>
<text x="23.6" y="128.7" font-size="7.3" text-anchor="end" fill="#222">0.50</text>
<path d="M24.6 78.7H27.5" stroke="#333" stroke-width="1"/>
<text x="23.6" y="81.2" font-size="7.3" text-anchor="end" fill="#222">0.75</text>
<path d="M24.6 31.1H27.5" stroke="#333" stroke-width="1"/>
<text x="23.6" y="33.6" font-size="7.3" text-anchor="end" fill="#222">1.00</text>
<path d="M37.3 231V233.2" stroke="#333" stroke-width="1"/>
<text x="37.3" y="240.1" font-size="7.3" text-anchor="middle" fill="#222">0</text>
<path d="M65.2 231V233.2" stroke="#333" stroke-width="1"/>
<text x="65.2" y="240.1" font-size="7.3" text-anchor="middle" fill="#222">2</text>
<path d="M93 231V233.2" stroke="#333" stroke-width="1"/>
<text x="93" y="240.1" font-size="7.3" text-anchor="middle" fill="#222">4</text>
<path d="M120.9 231V233.2" stroke="#333" stroke-width="1"/>
<text x="120.9" y="240.1" font-size="7.3" text-anchor="middle" fill="#222">6</text>
<path d="M148.7 231V233.2" stroke="#333" stroke-width="1"/>
<text x="148.7" y="240.1" font-size="7.3" text-anchor="middle" fill="#222">8</text>
<path d="M176.6 231V233.2" stroke="#333" stroke-width="1"/>
<text x="176.6" y="240.1" font-size="7.3" text-anchor="middle" fill="#222">10</text>
<path d="M204.5 231V233.2" stroke="#333" stroke-width="1"/>
<text x="204.5" y="240.1" font-size="7.3" text-anchor="middle" fill="#222">12</text>
<path d="M232.3 231V233.2" stroke="#333" stroke-width="1"/>
<text x="232.3" y="240.1" font-size="7.3" text-anchor="middle" fill="#222">14</text>
<text x="134.8" y="248.3" font-size="7.3" text-anchor="middle" fill="#1a1a1a">Time (years from diagnosis)</text>
<text transform="translate(6.4,126) rotate(-90)" x="0" y="0" font-size="7.3" text-anchor="middle" fill="#1a1a1a">Survival probability</text>
<text x="27" y="6.4" font-size="8" fill="#1a1a1a">Younger, No HDT</text>
<path d="M96.5 3.6h10.3M101.7 2.3v2.6" stroke="#a8142c" stroke-width="1.6"/>
<text x="112.2" y="6.4" font-size="6.7" fill="#1a1a1a">Low</text>
<path d="M130.2 3.6h10.3M135.3 2.3v2.6" stroke="#2f5088" stroke-width="1.6"/>
<text x="145.5" y="6.4" font-size="6.7" fill="#1a1a1a">LowInt</text>
<path d="M171.2 3.6h10.3M176.3 2.3v2.6" stroke="#481a6c" stroke-width="1.6"/>
<text x="186.5" y="6.4" font-size="6.7" fill="#1a1a1a">IntHigh</text>
<path d="M213.5 3.6h10.3M218.7 2.3v2.6" stroke="#66b03f" stroke-width="1.6"/>
<text x="228.7" y="6.4" font-size="6.7" fill="#1a1a1a">High</text>
<text x="120.6" y="36.1" font-size="10.4" fill="#1a1a1a">C-index = 0.631</text>
<path d="M37.3 126.2H171.3" stroke="#000" stroke-width="1.05" stroke-dasharray="3.7 2.6" fill="none"/>
<path d="M62.6 221.3V126.2" stroke="#000" stroke-width="1.05" stroke-dasharray="3.7 2.6" fill="none"/>
<path d="M93.1 221.3V126.2" stroke="#000" stroke-width="1.05" stroke-dasharray="3.7 2.6" fill="none"/>
<path d="M122.9 221.3V126.2" stroke="#000" stroke-width="1.05" stroke-dasharray="3.7 2.6" fill="none"/>
<path d="M171.3 221.3V126.2" stroke="#000" stroke-width="1.05" stroke-dasharray="3.7 2.6" fill="none"/>
<g clip-path="url(#clip)">
<path d="M38.2 31.1 39.3 31.1 39.3 32.9 40.1 32.9 40.1 34.2 40.3 34.2 40.3 35.4 40.6 35.4 40.6 36.7 41 36.7 41 38.8 43.7 38.8 44.1 38.8 44.1 40.4 44.6 40.4 44.6 42.5 47 42.5 47 43.1 48.3 43.1 48.3 43.4 49.2 43.4 49.2 45.3 50.1 45.3 50.1 47 55.6 47 57.4 47 57.4 48.9 61.1 48.9 61.4 48.9 61.4 49.8 61.9 49.8 61.9 51.7 62.4 51.7 62.4 53.4 62.9 53.4 62.9 55.3 64.8 55.3 64.8 57.1 75.7 57.1 75.9 57.1 75.9 58.2 76.2 58.2 76.2 59.4 76.6 59.4 76.6 61.7 78.2 61.7 78.2 63.8 79.4 63.8 79.4 65.3 84 65.3 84.4 65.3 84.4 66.5 84.9 66.5 84.9 68.1 86.7 68.1 86.7 69 88.5 69 88.5 69.9 89.4 69.9 89.4 71.7 90.4 71.7 90.4 73.6 92.2 73.6 92.2 75.4 92.7 75.4 92.7 76.4 94 76.4 94 79 95.5 79 95.5 79.8 97.7 79.8 97.7 80.9 99.5 80.9 101.3 80.9 101.3 82.7 104.1 82.7 104.4 82.7 104.4 85.1 104.5 85.1 104.5 86.3 104.7 86.3 104.7 87.6 104.9 87.6 104.9 88.9 105 88.9 105 90 108.7 90 109.7 90 109.7 92.1 110.5 92.1 110.5 93.7 112.2 93.7 112.2 94.1 114.1 94.1 114.1 94.6 114.4 94.6 114.4 96.7 114.6 96.7 114.6 98 114.7 98 114.7 98.9 115 98.9 115 100.7 115.2 100.7 115.2 102.3 115.5 102.3 115.5 104.4 147.6 104.4 147.9 112.7 167.5 112.7 167.5 120.7 171.7 120.7 171.7 131 180.8 131 180.8 141.8 195.8 141.8 195.8 153.5 233.3 153.5 233.3 176 242 176" fill="none" stroke="#a8142c" stroke-width="2.2" stroke-linejoin="miter"/>
<path d="M67.8 55.2v3.8M118.5 102.5v3.8M127.7 102.5v3.8M136.9 102.5v3.8M143.1 102.5v3.8M150.9 110.8v3.8M160.1 110.8v3.8M174.7 129.1v3.8M183.8 139.9v3.8M193 139.9v3.8M198.8 151.6v3.8M208 151.6v3.8M217.2 151.6v3.8M223.4 151.6v3.8M236.3 174.1v3.8" stroke="#a8142c" stroke-width="0.6" fill="none"/>
<path d="M38.2 31.1 38.7 31.1 38.7 32 39.7 32 39.7 33.7 41 33.7 41 36.1 44.6 36.1 45.5 36.1 45.5 37.8 46.5 37.8 46.5 39.7 47.8 39.7 47.8 40 50.1 40 50.1 40.6 51.8 40.6 51.8 42.3 53.8 42.3 53.8 44.3 55.9 44.3 55.9 45.4 57.4 45.4 57.4 46.1 58.6 46.1 58.6 48.5 59.3 48.5 59.3 49.8 61.1 49.8 61.1 51.6 62.1 51.6 62.1 53.7 62.9 53.7 62.9 55.3 63.6 55.3 63.6 57.1 64.5 57.1 64.5 59.1 64.8 59.1 64.8 59.8 66.6 59.8 66.6 60.7 68.4 60.7 68.4 61.7 70.2 61.7 70.2 62 72.4 62 72.4 62.4 73.9 62.4 73.9 62.6 75.7 62.6 75.7 63.9 77.6 63.9 77.6 65.3 79.4 65.3 79.4 64.9 81.2 64.9 81.2 64.4 82.3 64.4 82.3 66.7 83 66.7 83 68.1 83.8 68.1 83.8 69.2 84.9 69.2 84.9 70.8 86.5 70.8 86.5 71.2 88.5 71.2 88.5 71.7 89.1 71.7 89.1 72.9 90.4 72.9 90.4 75.4 92.9 75.4 92.9 77.3 94 77.3 94 78.1 95.4 78.1 95.4 79.1 97.7 79.1 97.7 80.9 98.4 80.9 98.4 82.6 99.2 82.6 99.2 84.6 99.5 84.6 99.5 85.4 103.7 86 104 86 104 87.2 104.5 87.2 104.5 89.6 104.9 89.6 104.9 91.3 105.2 91.3 105.2 92.8 105.5 92.8 105.5 94.3 106.3 94.3 106.3 96.5 106.7 96.5 106.7 97.6 107.3 97.6 107.3 99.1 107.7 99.1 107.7 100.3 108.2 100.3 108.2 101.6 108.9 101.6 108.9 103.4 109.7 103.4 109.7 105.4 110.1 105.4 110.1 106.5 110.4 106.5 110.4 107.3 111 107.3 111 108.9 112.7 108.9 112.7 110.1 113.7 110.1 113.7 110.8 114.8 110.8 114.8 112.6 115.5 112.6 115.5 113.6 116.5 113.6 116.5 115.3 117.9 115.3 117.9 116 120.1 116 120.1 117.2 120.5 117.2 120.5 118.9 120.8 118.9 120.8 119.9 121 119.9 121 120.7 121.5 120.7 121.5 122.5 122 122.5 122 124.6 122.7 124.6 122.7 127.2 122.9 127.2 122.9 128.1 143.9 128.1 144.2 128.1 144.2 130.2 144.5 130.2 144.5 131.8 144.8 131.8 144.8 133.6 160 133.5 161.4 133.5 161.4 133.8 163.3 133.8 163.3 134.3 163.6 134.3 163.6 136 164 136 164 138.4 164.2 138.4 164.2 139.3 165.2 139.3 165.2 139.7 166.7 139.7 166.7 140.2 167 140.2 167 142.3 167.1 142.3 167.1 143.2 167.2 143.2 167.2 143.9 167.5 143.9 167.5 146 169.2 146 169.2 146.8 169.4 146.8 169.4 148.3 169.5 148.3 169.5 149 169.8 149 169.8 151.4 170 151.4 170 152.7 180.8 152.7 180.8 161 213.3 161 213.3 173.5 242 173.5" fill="none" stroke="#2f5088" stroke-width="2.2" stroke-linejoin="miter"/>
<path d="M125.9 126.2v3.8M135.1 126.2v3.8M147.8 131.7v3.8M157 131.7v3.8M173 150.8v3.8M183.8 159.1v3.8M193 159.1v3.8M202.2 159.1v3.8M208.4 159.1v3.8M216.3 171.6v3.8M225.5 171.6v3.8M234.7 171.6v3.8" stroke="#2f5088" stroke-width="0.6" fill="none"/>
<path d="M38.2 31.1 38.2 37 38.4 37 38.4 39 38.6 39 38.6 40.6 38.7 40.6 38.7 42.5 38.8 42.5 38.8 43.3 39 43.3 39 45.2 39.1 45.2 39.1 46.1 39.3 46.1 39.3 47.5 39.7 47.5 39.7 49.8 40.1 49.8 40.1 52 40.3 52 40.3 53 40.5 53 40.5 54.1 40.7 54.1 40.7 55.5 41 55.5 41 57.1 41.7 57.1 41.7 59.3 42.2 59.3 42.2 60.8 42.8 60.8 42.8 62.6 43.5 62.6 43.5 64.8 44.3 64.8 44.3 67.3 44.6 67.3 44.6 68.1 45.3 68.1 45.3 69.7 46.2 69.7 46.2 71.7 46.5 71.7 46.5 72.4 47.4 72.4 47.4 74.5 47.9 74.5 47.9 75.4 49 75.4 49 77.2 50.1 77.2 50.1 79 51.2 79 51.2 80.9 52 80.9 52 82.1 52.9 82.1 52.9 83.6 54.4 83.6 54.4 85.6 55.6 85.6 55.6 87.3 57 87.3 57 89.1 58.2 89.1 58.2 90.5 59.3 90.5 59.3 91.9 60 91.9 60 92.4 62 92.4 62 93.7 63.7 93.7 63.7 94.8 64.8 94.8 64.8 95.5 66.6 95.5 66.6 97.3 68.4 97.3 68.4 99.2 69.8 99.2 69.8 101.3 70.7 101.3 70.7 102.6 72.1 102.6 72.1 104.7 73.3 104.7 73.3 106.1 74.5 106.1 74.5 107.6 76.5 107.6 76.5 110.1 77.6 110.1 77.6 111.5 79.7 111.5 79.7 112.6 82 112.6 82 113.7 83 113.7 83 114.2 85.2 114.2 85.2 116.4 86.1 116.4 86.1 117.3 88.5 117.3 88.5 119.7 90.4 119.7 90.4 121.9 91.9 121.9 91.9 123.6 92.6 123.6 92.6 124.4 94 124.4 94 126.1 94.8 126.1 94.8 127.1 96.2 127.1 96.2 129 96.7 129 96.7 129.7 98 129.7 98 131.5 99.5 131.5 99.5 133.4 100.6 133.4 100.6 134.9 101.8 134.9 101.8 136.5 102.3 136.5 102.3 137.3 103.7 137.3 103.7 139.1 104.6 139.1 104.6 140.2 106 140.2 106 142 107.3 142 107.3 143.7 108.4 143.7 108.4 144.3 111 144.3 111 145.5 112.9 145.5 112.9 148 113.6 148 113.6 148.8 114.6 148.8 114.6 150.1 116 150.1 116 151.9 116.7 151.9 116.7 152.7 118.3 152.7 118.3 154.7 119.6 154.7 119.6 155.6 122 155.6 122 157.4 123 157.4 123 158.6 124.8 158.6 124.8 160.8 126.6 160.8 126.6 163.6 127.4 163.6 127.4 164.8 127.7 164.8 127.7 166.4 128.1 166.4 128.1 168.7 128.4 168.7 128.4 170.4 128.6 170.4 128.6 171.4 128.8 171.4 128.8 172.8 134.1 172.8 135.1 172.8 135.1 173 137.5 173 137.5 173.7 139.5 173.7 139.5 174.2 142.3 174.2 142.3 176.1 143.5 176.1 143.5 176.9 144.5 176.9 144.5 179.8 144.9 179.8 144.9 180.9 146.4 180.9 146.4 181.1 148.1 181.1 148.1 181.4 149.3 181.4 149.3 181.6 151.4 181.6 151.4 182 152.9 182 152.9 182.2 154.4 182.2 154.4 182.7 156.3 182.7 156.3 183.4 157 183.4 157 183.6 159.3 183.6 159.3 184.4 161 184.4 161 184.9 161.5 184.9 161.5 186.2 162.3 186.2 162.3 188.2 162.8 188.2 162.8 189.3 163.7 189.3 163.7 191.6 165.2 191.6 165.2 193.9 166.3 193.9 166.3 195.6 167.1 195.6 167.1 197.2 167.7 197.2 167.7 198.3 202.6 198.3 202.6 209.9 242 209.9" fill="none" stroke="#481a6c" stroke-width="2.2" stroke-linejoin="miter"/>
<path d="M170.7 196.4v3.8M179.9 196.4v3.8M189.1 196.4v3.8M195.3 196.4v3.8M205.6 208v3.8M214.8 208v3.8M224 208v3.8M230.2 208v3.8M239.4 208v3.8" stroke="#481a6c" stroke-width="0.6" fill="none"/>
<path d="M37.3 32.4 37.5 32.4 37.5 33.4 37.8 33.4 37.8 35.5 37.9 35.5 37.9 36.3 38.2 36.3 38.2 38.6 38.4 38.6 38.4 39.8 38.7 39.8 38.7 41.7 39.1 41.7 39.1 44.3 39.5 44.3 39.5 46.5 39.9 46.5 39.9 48.8 40.1 48.8 40.1 50.3 40.3 50.3 40.3 51.1 40.4 51.1 40.4 51.9 40.6 51.9 40.6 53.1 41 53.1 41 55.3 41.5 55.3 41.5 56.7 42.1 56.7 42.1 58.3 43 58.3 43 60.7 43.3 60.7 43.3 61.5 43.7 61.5 43.7 62.6 44.5 62.6 44.5 65.2 44.8 65.2 44.8 66.1 45 66.1 45 67 45.6 67 45.6 68.8 45.9 68.8 45.9 69.9 46.5 69.9 46.5 71.7 46.9 71.7 46.9 72.7 47.5 72.7 47.5 74.5 48.2 74.5 48.2 76.2 48.5 76.2 48.5 77.2 49.2 77.2 49.2 79 50.1 79 50.1 80.7 50.6 80.7 50.6 81.8 52 81.8 52 84.5 52.2 84.5 52.2 85.6 52.4 85.6 52.4 86.5 52.6 86.5 52.6 87.4 52.9 87.4 52.9 89.2 53.4 89.2 53.4 91.6 53.8 91.6 53.8 93.7 54.2 93.7 54.2 95.3 54.5 95.3 54.5 96.5 54.7 96.5 54.7 97.2 55.2 97.2 55.2 99.3 55.6 99.3 55.6 101.2 56 101.2 56 102.6 56.5 102.6 56.5 104.7 56.9 104.7 56.9 106.1 57.7 106.1 57.7 108.3 58.3 108.3 58.3 110.1 58.6 110.1 58.6 111.1 59.3 111.1 59.3 113.3 59.5 113.3 59.5 114.2 59.9 114.2 59.9 116.1 60.2 116.1 60.2 117.8 60.4 117.8 60.4 119.1 60.6 119.1 60.6 120 61.1 120 61.1 122.5 61.2 122.5 61.2 123.2 61.6 123.2 61.6 125 62.1 125 62.1 127.6 62.3 127.6 62.3 128.6 62.5 128.6 62.5 129.7 62.9 129.7 62.9 131.6 63.4 131.6 63.4 133.2 64.1 133.2 64.1 135 64.8 135 64.8 137.1 70.2 137.1 70.6 137.1 70.6 138.7 71.2 138.7 71.2 140.8 72.9 140.8 72.9 141.4 73.9 141.4 73.9 141.7 74.4 141.7 74.4 143.1 74.8 143.1 74.8 144.4 78.5 144.4 78.7 144.4 78.7 146.1 78.8 146.1 78.8 146.7 79 146.7 79 148.6 79.2 148.6 79.2 150.4 79.4 150.4 79.4 151.7 84 151.7 84.5 151.7 84.5 153.8 84.9 153.8 84.9 155.4 86.4 155.4 86.4 155.9 87.6 155.9 87.6 156.3 87.9 156.3 87.9 157.9 88.1 157.9 88.1 159 88.5 159 88.5 160.9 88.9 160.9 88.9 162.7 89.3 162.7 89.3 164.4 89.8 164.4 89.8 166.4 90.2 166.4 90.2 168.1 90.4 168.1 90.4 169.1 122.9 169.1 122.9 186.2 159.6 186.2" fill="none" stroke="#66b03f" stroke-width="2.2" stroke-linejoin="miter"/>
<path d="M93.4 167.2v3.8M102.6 167.2v3.8M111.8 167.2v3.8M118 167.2v3.8M125.9 184.3v3.8M135.1 184.3v3.8M144.3 184.3v3.8M150.5 184.3v3.8" stroke="#66b03f" stroke-width="0.6" fill="none"/>
</g>
<text x="27.5" y="262.6" font-size="5.8" fill="#1a1a1a">Number at risk</text>
<path d="M13 277.7h10" stroke="#a8142c" stroke-width="3.2"/>
<text x="37.3" y="280.9" font-size="9" text-anchor="middle" fill="#1a1a1a">97</text>
<text x="65.2" y="280.9" font-size="9" text-anchor="middle" fill="#1a1a1a">73</text>
<text x="93" y="280.9" font-size="9" text-anchor="middle" fill="#1a1a1a">53</text>
<text x="120.9" y="280.9" font-size="9" text-anchor="middle" fill="#1a1a1a">24</text>
<text x="148.7" y="280.9" font-size="9" text-anchor="middle" fill="#1a1a1a">14</text>
<text x="176.6" y="280.9" font-size="9" text-anchor="middle" fill="#1a1a1a">9</text>
<text x="204.5" y="280.9" font-size="9" text-anchor="middle" fill="#1a1a1a">5</text>
<text x="232.3" y="280.9" font-size="9" text-anchor="middle" fill="#1a1a1a">4</text>
<path d="M13 294.2h10" stroke="#2f5088" stroke-width="3.2"/>
<text x="37.3" y="297.4" font-size="9" text-anchor="middle" fill="#1a1a1a">156</text>
<text x="65.2" y="297.4" font-size="9" text-anchor="middle" fill="#1a1a1a">111</text>
<text x="93" y="297.4" font-size="9" text-anchor="middle" fill="#1a1a1a">83</text>
<text x="120.9" y="297.4" font-size="9" text-anchor="middle" fill="#1a1a1a">29</text>
<text x="148.7" y="297.4" font-size="9" text-anchor="middle" fill="#1a1a1a">16</text>
<text x="176.6" y="297.4" font-size="9" text-anchor="middle" fill="#1a1a1a">9</text>
<text x="204.5" y="297.4" font-size="9" text-anchor="middle" fill="#1a1a1a">6</text>
<text x="232.3" y="297.4" font-size="9" text-anchor="middle" fill="#1a1a1a">3</text>
<path d="M13 310.5h10" stroke="#481a6c" stroke-width="3.2"/>
<text x="37.3" y="313.7" font-size="9" text-anchor="middle" fill="#1a1a1a">309</text>
<text x="65.2" y="313.7" font-size="9" text-anchor="middle" fill="#1a1a1a">177</text>
<text x="93" y="313.7" font-size="9" text-anchor="middle" fill="#1a1a1a">115</text>
<text x="120.9" y="313.7" font-size="9" text-anchor="middle" fill="#1a1a1a">38</text>
<text x="148.7" y="313.7" font-size="9" text-anchor="middle" fill="#1a1a1a">14</text>
<text x="176.6" y="313.7" font-size="9" text-anchor="middle" fill="#1a1a1a">5</text>
<text x="204.5" y="313.7" font-size="9" text-anchor="middle" fill="#1a1a1a">1</text>
<text x="232.3" y="313.7" font-size="9" text-anchor="middle" fill="#1a1a1a">1</text>
<path d="M13 326.9h10" stroke="#66b03f" stroke-width="3.2"/>
<text x="37.3" y="330.1" font-size="9" text-anchor="middle" fill="#1a1a1a">56</text>
<text x="65.2" y="330.1" font-size="9" text-anchor="middle" fill="#1a1a1a">22</text>
<text x="93" y="330.1" font-size="9" text-anchor="middle" fill="#1a1a1a">13</text>
<text x="120.9" y="330.1" font-size="9" text-anchor="middle" fill="#1a1a1a">3</text>
<text x="148.7" y="330.1" font-size="9" text-anchor="middle" fill="#1a1a1a">1</text>
<text x="176.6" y="330.1" font-size="9" text-anchor="middle" fill="#1a1a1a">0</text>
<text x="204.5" y="330.1" font-size="9" text-anchor="middle" fill="#1a1a1a">0</text>
<text x="232.3" y="330.1" font-size="9" text-anchor="middle" fill="#1a1a1a">0</text>
</g>
<g class="p" transform="translate(249,354)" style="color:#1a1a1a">
<path d="M27.5 21.7V231H241.7" fill="none" stroke="#444" stroke-width="1"/>
<path d="M24.6 221.3H27.5" stroke="#333" stroke-width="1"/>
<text x="23.6" y="223.8" font-size="7.3" text-anchor="end" fill="#222">0.00</text>
<path d="M24.6 173.8H27.5" stroke="#333" stroke-width="1"/>
<text x="23.6" y="176.2" font-size="7.3" text-anchor="end" fill="#222">0.25</text>
<path d="M24.6 126.2H27.5" stroke="#333" stroke-width="1"/>
<text x="23.6" y="128.7" font-size="7.3" text-anchor="end" fill="#222">0.50</text>
<path d="M24.6 78.7H27.5" stroke="#333" stroke-width="1"/>
<text x="23.6" y="81.2" font-size="7.3" text-anchor="end" fill="#222">0.75</text>
<path d="M24.6 31.1H27.5" stroke="#333" stroke-width="1"/>
<text x="23.6" y="33.6" font-size="7.3" text-anchor="end" fill="#222">1.00</text>
<path d="M37.3 231V233.2" stroke="#333" stroke-width="1"/>
<text x="37.3" y="240.1" font-size="7.3" text-anchor="middle" fill="#222">0</text>
<path d="M65.2 231V233.2" stroke="#333" stroke-width="1"/>
<text x="65.2" y="240.1" font-size="7.3" text-anchor="middle" fill="#222">2</text>
<path d="M93 231V233.2" stroke="#333" stroke-width="1"/>
<text x="93" y="240.1" font-size="7.3" text-anchor="middle" fill="#222">4</text>
<path d="M120.9 231V233.2" stroke="#333" stroke-width="1"/>
<text x="120.9" y="240.1" font-size="7.3" text-anchor="middle" fill="#222">6</text>
<path d="M148.7 231V233.2" stroke="#333" stroke-width="1"/>
<text x="148.7" y="240.1" font-size="7.3" text-anchor="middle" fill="#222">8</text>
<path d="M176.6 231V233.2" stroke="#333" stroke-width="1"/>
<text x="176.6" y="240.1" font-size="7.3" text-anchor="middle" fill="#222">10</text>
<path d="M204.5 231V233.2" stroke="#333" stroke-width="1"/>
<text x="204.5" y="240.1" font-size="7.3" text-anchor="middle" fill="#222">12</text>
<path d="M232.3 231V233.2" stroke="#333" stroke-width="1"/>
<text x="232.3" y="240.1" font-size="7.3" text-anchor="middle" fill="#222">14</text>
<text x="134.8" y="248.3" font-size="7.3" text-anchor="middle" fill="#1a1a1a">Time (years from diagnosis)</text>
<text transform="translate(6.4,126) rotate(-90)" x="0" y="0" font-size="7.3" text-anchor="middle" fill="#1a1a1a">Survival probability</text>
<text x="32.9" y="6.4" font-size="8" fill="#1a1a1a">Older, No HDT</text>
<path d="M91 3.6h10.3M96.2 2.3v2.6" stroke="#a8142c" stroke-width="1.6"/>
<text x="106.5" y="6.4" font-size="6.7" fill="#1a1a1a">Low</text>
<path d="M124.2 3.6h10.3M129.3 2.3v2.6" stroke="#2f5088" stroke-width="1.6"/>
<text x="139.5" y="6.4" font-size="6.7" fill="#1a1a1a">LowInt</text>
<path d="M165.1 3.6h10.3M170.2 2.3v2.6" stroke="#481a6c" stroke-width="1.6"/>
<text x="180.4" y="6.4" font-size="6.7" fill="#1a1a1a">IntHigh</text>
<path d="M207.1 3.6h10.3M212.2 2.3v2.6" stroke="#66b03f" stroke-width="1.6"/>
<text x="222.4" y="6.4" font-size="6.7" fill="#1a1a1a">High</text>
<text x="121" y="36.1" font-size="10.4" fill="#1a1a1a">C-index = 0.587</text>
<path d="M37.3 126.2H116.1" stroke="#000" stroke-width="1.05" stroke-dasharray="3.7 2.6" fill="none"/>
<path d="M61.2 221.3V126.2" stroke="#000" stroke-width="1.05" stroke-dasharray="3.7 2.6" fill="none"/>
<path d="M74.5 221.3V126.2" stroke="#000" stroke-width="1.05" stroke-dasharray="3.7 2.6" fill="none"/>
<path d="M97.8 221.3V126.2" stroke="#000" stroke-width="1.05" stroke-dasharray="3.7 2.6" fill="none"/>
<path d="M116.1 221.3V126.2" stroke="#000" stroke-width="1.05" stroke-dasharray="3.7 2.6" fill="none"/>
<g clip-path="url(#clip)">
<path d="M38.3 31.1 39.3 31.1 39.3 33.2 40.1 33.2 40.1 35.1 40.3 35.1 40.3 36.8 40.5 36.8 40.5 38.1 40.6 38.1 40.6 39 40.8 39 40.8 40.5 41.1 40.5 41.1 42.5 41.9 42.5 41.9 43.1 43.8 43.1 43.8 44.3 45.2 44.3 45.2 45.3 47.5 45.3 47.5 47 48.2 47 48.2 47.9 49.5 47.9 49.5 49.6 51.1 49.6 51.1 51.6 52.8 51.6 52.8 53 53.8 53 53.8 53.8 55.7 53.8 55.7 55.3 56.9 55.3 56.9 56.8 58 56.8 58 58 60.3 58 60.3 60.8 62 60.8 62 62.5 63.9 62.5 63.9 64.4 65.5 64.4 65.5 66 67.6 66 67.6 68.1 69.1 68.1 69.1 69.2 71.2 69.2 71.2 70.8 72.1 70.8 72.1 72.4 73.2 72.4 73.2 74.3 73.9 74.3 73.9 75.5 74.9 75.5 74.9 77.2 76.5 77.2 76.5 79.6 77.6 79.6 77.6 81.3 78.6 81.3 78.6 82.7 79.9 82.7 79.9 84.7 80.5 84.7 80.5 85.6 82.2 85.6 82.2 88.2 84.3 88.2 84.3 89.6 85.8 89.6 85.8 90.6 87.7 90.6 87.7 91.9 90.6 91.9 90.6 93.3 92.1 93.3 92.1 94.1 93.2 94.1 93.2 94.6 94 94.6 94 94.7 94.8 94.7 94.8 94.8 97 94.8 97 95 99.2 95 99.2 95.3 101.4 95.3 101.4 95.5 102.7 95.5 102.7 98 103.1 98 103.1 98.9 104.2 98.9 104.2 101 105 101 105 102.3 106.4 102.3 106.4 104.4 107.8 104.4 107.8 106.5 108.3 106.5 108.3 108.2 108.4 108.2 108.4 108.7 108.9 108.7 108.9 110.4 109.4 110.4 109.4 112.1 109.9 112.1 109.9 113.9 110.6 113.9 110.6 115.6 111.5 115.6 111.5 117.7 112.2 117.7 112.2 119.5 114.4 119.5 114.4 120.7 114.9 120.7 114.9 122.4 115.4 122.4 115.4 124 115.8 124 115.8 125.4 116.3 125.4 116.3 127.1 116.7 127.1 116.7 128.5 118.6 128.5 118.6 129.8 120 129.8 120 130.7 120.2 130.7 120.2 131.6 120.6 131.6 120.6 133.8 120.8 133.8 120.8 135 121.1 135 121.1 136.3 130.1 136.3 130.3 136.3 130.3 138.1 130.5 138.1 130.5 138.9 130.7 138.9 130.7 140.2 130.9 140.2 130.9 141.7 131.2 141.7 131.2 144.1 131.7 144.1 131.7 145.3 132.2 145.3 132.2 146.4 133.1 146.4 133.1 148.6 133.7 148.6 133.7 150 134.5 150 134.5 152 135.6 152 135.6 154.5 136 154.5 136 155.5 136.8 155.5 136.8 157.5 149.1 157.5 149.3 157.5 149.3 158.9 149.6 158.9 149.6 160.8 149.7 160.8 149.7 162 150 162 150 163.9 150.2 163.9 150.2 165.4 155.8 165.4 156.2 165.4 156.2 166.8 156.9 166.8 156.9 169.9 157.2 169.9 157.2 171 165.1 171 165.4 171 165.4 173.4 165.6 173.4 165.6 174.5 165.6 174.5 165.6 175.2 165.8 175.2 165.8 176.3 166.1 176.3 166.1 178.6 166.5 178.6 166.5 181.3 166.5 181.3 166.5 182 166.8 182 166.8 183.8 167 183.8 167 185.5 187.9 185.8 188.1 185.8 188.1 187.9 188.2 187.9 188.2 188.8 188.3 188.8 188.3 190.4 188.5 190.4 188.5 191.6 188.7 191.6 188.7 193.8 188.8 193.8 188.8 194.8 189 194.8 189 197.2 193.6 197.2 193.7 197.2 193.7 198.6 193.9 198.6 193.9 199.9 194.1 199.9 194.1 202.4 194.3 202.4 194.3 204.3 194.4 204.3 194.4 205.4 194.6 205.4 194.6 207.6 194.7 207.6 194.7 208.6 208.4 208.6" fill="none" stroke="#a8142c" stroke-width="2.2" stroke-linejoin="miter"/>
<path d="M124.1 134.4v3.8M139.8 155.6v3.8M160.2 169.1v3.8M197.7 206.7v3.8" stroke="#a8142c" stroke-width="0.6" fill="none"/>
<path d="M38.3 31.1 38.6 31.1 38.6 33 38.8 33 38.8 34.8 39.1 34.8 39.1 36.8 39.3 36.8 39.3 38.4 39.5 38.4 39.5 39.6 39.6 39.6 39.6 40.9 39.8 40.9 39.8 42.2 40.1 42.2 40.1 44.3 40.5 44.3 40.5 45.3 41.6 45.3 41.6 48.1 41.9 48.1 41.9 49 42.4 49 42.4 50.2 42.9 50.2 42.9 51.6 43.7 51.6 43.7 53.6 44.3 53.6 44.3 54.9 44.8 54.9 44.8 56.1 45.6 56.1 45.6 58 47.1 58 47.1 59.2 49.3 59.2 49.3 60.8 50.4 60.8 50.4 62.3 51.7 62.3 51.7 64.3 53 64.3 53 66.2 54.5 66.2 54.5 68.5 55.6 68.5 55.6 70.1 56.6 70.1 56.6 71.7 57.3 71.7 57.3 72.7 58.9 72.7 58.9 75.1 60.3 75.1 60.3 77.2 61.2 77.2 61.2 79 61.6 79 61.6 79.8 62.2 79.8 62.2 81.1 63.1 81.1 63.1 83 63.9 83 63.9 84.5 64.6 84.5 64.6 85.5 65.8 85.5 65.8 87.3 67.6 87.3 67.6 90 69.5 90 69.5 91.9 71.2 91.9 71.2 93.7 72.6 93.7 72.6 95.1 74.9 95.1 74.9 97.3 77.5 97.3 77.5 99.9 78.6 99.9 78.6 101 80.2 101 80.2 102.7 82.2 102.7 82.2 104.7 83 104.7 83 106.4 84 106.4 84 108.6 84.5 108.6 84.5 109.9 85.3 109.9 85.3 111.6 85.9 111.6 85.9 113 87 113 87 114.9 88 114.9 88 116.4 88.4 116.4 88.4 117 89.5 117 89.5 118.8 90.5 118.8 90.5 119.5 92.1 119.5 92.1 120.5 95 120.5 95 122.5 96.3 122.5 96.3 124.6 97.5 124.6 97.5 126.6 98.3 126.6 98.3 128 98.9 128 98.9 129 100 129 100 130.8 100.5 130.8 100.5 131.6 101.4 131.6 101.4 132.9 102.6 132.9 102.6 134.7 103.2 134.7 103.2 135.6 104.4 135.6 104.4 137.4 106.1 137.4 106.1 139.2 107.7 139.2 107.7 140.8 108.6 140.8 108.6 142.6 109.7 142.6 109.7 144.7 110.6 144.7 110.6 146.5 111.1 146.5 111.1 147.5 112.2 147.5 112.2 149 113.1 149 113.1 150.2 114.4 150.2 114.4 152 116.5 152 116.5 154 117.8 154 117.8 155.3 118.9 155.3 118.9 157.2 120.2 157.2 120.2 159.4 121.1 159.4 121.1 160.9 122.3 160.9 122.3 162.1 124.5 162.1 124.5 164.3 125.6 164.3 125.6 165.8 126.6 165.8 126.6 167.1 127.6 167.1 127.6 168.4 128.9 168.4 128.9 170.4 130 170.4 130 172.1 132 172.1 132 172.8 133.7 172.8 133.7 173.3 134.2 173.3 134.2 174.6 134.9 174.6 134.9 176.6 135.3 176.6 135.3 177.4 135.8 177.4 135.8 178.9 136.7 178.9 136.7 181.2 151.5 181.3 151.9 181.3 151.9 183.1 152.4 183.1 152.4 184.8 152.6 184.8 152.6 185.8 154.3 185.8 154.3 186.4 156 186.4 156 187 156.4 187 156.4 188.6 156.8 188.6 156.8 189.8 157.2 189.8 157.2 191.5 173.1 191.5 173.1 206.3 191.3 206.3" fill="none" stroke="#2f5088" stroke-width="2.2" stroke-linejoin="miter"/>
<path d="M139.7 179.3v3.8M148.9 179.3v3.8M160.2 189.6v3.8M169.4 189.6v3.8M176.1 204.4v3.8M185.3 204.4v3.8" stroke="#2f5088" stroke-width="0.6" fill="none"/>
<path d="M38.3 31.1 38.4 31.1 38.4 33.5 38.5 33.5 38.5 34.4 38.6 34.4 38.6 36.3 38.7 36.3 38.7 38.4 38.8 38.4 38.8 39.7 38.9 39.7 38.9 41.3 39.1 41.3 39.1 43.8 39.1 43.8 39.1 44.5 39.2 44.5 39.2 46.1 39.3 46.1 39.3 47 39.5 47 39.5 49.1 39.8 49.1 39.8 51.5 40 51.5 40 53.1 40.1 53.1 40.1 53.9 40.3 53.9 40.3 55.6 40.5 55.6 40.5 57.2 40.7 57.2 40.7 59.2 40.9 59.2 40.9 60.8 41.1 60.8 41.1 62.6 41.7 62.6 41.7 64.5 42.1 64.5 42.1 65.9 42.4 65.9 42.4 67.1 43 67.1 43 69.2 43.3 69.2 43.3 70 43.8 70 43.8 71.7 44.3 71.7 44.3 72.9 44.9 72.9 44.9 74.8 45.2 74.8 45.2 75.6 46.1 75.6 46.1 77.8 46.5 77.8 46.5 79 47.1 79 47.1 80.2 48.1 80.2 48.1 82.2 49.3 82.2 49.3 84.5 49.7 84.5 49.7 85.2 50.4 85.2 50.4 86.8 51.2 86.8 51.2 88.3 52.3 88.3 52.3 90.5 53 90.5 53 91.9 53.5 91.9 53.5 92.9 54 92.9 54 93.8 54.8 93.8 54.8 95.6 55.9 95.6 55.9 97.8 56.6 97.8 56.6 99.2 57.5 99.2 57.5 100.5 59.2 100.5 59.2 103.1 60.4 103.1 60.4 104.7 61.2 104.7 61.2 106 61.8 106 61.8 106.8 63.1 106.8 63.1 108.7 64.4 108.7 64.4 110.6 65.6 110.6 65.6 112.2 66.5 112.2 66.5 113.6 67.6 113.6 67.6 115.1 68.2 115.1 68.2 116 69.6 116 69.6 118.2 70.4 118.2 70.4 119.3 71.5 119.3 71.5 120.9 72.7 120.9 72.7 122.9 74 122.9 74 124.8 74.9 124.8 74.9 126.1 75.8 126.1 75.8 127.3 77.1 127.3 77.1 128.9 77.8 128.9 77.8 129.7 79.5 129.7 79.5 131.9 80.5 131.9 80.5 133.1 82.2 133.1 82.2 135.3 83.4 135.3 83.4 136.9 84.9 136.9 84.9 138.7 86.1 138.7 86.1 140.2 87.7 140.2 87.7 142.2 88.8 142.2 88.8 143.5 89.5 143.5 89.5 144.4 91.1 144.4 91.1 146.7 92 146.7 92 148.1 92.8 148.1 92.8 149.4 93.8 149.4 93.8 150.8 95 150.8 95 152.6 96.2 152.6 96.2 154 97.8 154 97.8 155.8 99.4 155.8 99.4 157.7 100.5 157.7 100.5 159 102.9 159 102.9 161.4 105.2 161.4 105.2 163.7 106 163.7 106 164.5 107.1 164.5 107.1 166.2 108.3 166.2 108.3 168 109.3 168 109.3 169.7 110.4 169.7 110.4 170.4 113 170.4 113 172.1 114.8 172.1 114.8 173.9 115.4 173.9 115.4 174.5 116 174.5 116 174.8 118.4 174.8 118.4 176.1 120.3 176.1 120.3 177 122.2 177 122.2 178.2 123.6 178.2 123.6 179 125.1 179 125.1 180 126.4 180 126.4 180.6 128.8 180.6 128.8 181.9 130.2 181.9 130.2 184 131.2 184 131.2 185.5 132 185.5 132 187.9 132.8 187.9 132.8 190 133.1 190 133.1 191 134.8 191 134.8 193.1 136.1 193.1 136.1 194.7 147.1 194.7 148.4 194.7 148.4 196.6 149.5 196.6 149.5 198.3 152.6 198.4 154.4 198.4 154.4 199.5 156 199.5 156 200.6 158.3 200.6 158.3 202.9 159.2 202.9 159.2 203.1 160.9 203.1 160.9 203.6 162.3 203.6 162.3 203.9 164.1 203.9 164.1 204.4 165.4 204.4 165.4 204.7 167.4 204.7 167.4 205.2 169.4 205.2 169.4 206 170.8 206 170.8 206.6 172 206.6 172 207.1 173.1 207.1 173.1 207.5 173.9 207.5 173.9 209.4 174.2 209.4 174.2 210.3 175 210.3 175 212.1 175.4 212.1 175.4 213.2 176.8 213.2 176.8 213.4 178.3 213.4 178.3 213.5 179.8 213.5 179.8 213.7 181.9 213.7 181.9 214 182.5 214 182.5 214.1 184.5 214.1 184.5 214.3 228.9 214.3 228.9 220" fill="none" stroke="#481a6c" stroke-width="2.2" stroke-linejoin="miter"/>
<path d="M139.1 192.8v3.8M187.5 212.4v3.8M196.7 212.4v3.8M205.9 212.4v3.8M212.1 212.4v3.8M221.3 212.4v3.8" stroke="#481a6c" stroke-width="0.6" fill="none"/>
<path d="M38.3 31.1 38.4 31.1 38.4 32.6 38.5 32.6 38.5 34.2 38.6 34.2 38.6 36 38.7 36 38.7 38.1 38.7 38.1 38.7 39.4 38.8 39.4 38.8 40.8 38.9 40.8 38.9 43.1 39 43.1 39 43.8 39.1 43.8 39.1 45.6 39.2 45.6 39.2 47.3 39.2 47.3 39.2 48 39.3 48 39.3 49.6 39.4 49.6 39.4 51.4 39.5 51.4 39.5 53.6 39.5 53.6 39.5 54.8 39.6 54.8 39.6 57 39.7 57 39.7 58.5 39.8 58.5 39.8 59.9 39.9 59.9 39.9 62.1 39.9 62.1 39.9 62.7 40 62.7 40 64.5 40.1 64.5 40.1 66.2 41.1 66.2 41.1 67.6 42.8 67.6 42.8 70.2 43.8 70.2 43.8 71.7 44.2 71.7 44.2 73.1 44.5 73.1 44.5 74.7 45 74.7 45 76.7 45.3 76.7 45.3 77.6 45.6 77.6 45.6 79 45.9 79 45.9 80.2 46.3 80.2 46.3 81.6 46.8 81.6 46.8 83.5 47 83.5 47 84.5 47.5 84.5 47.5 86.4 47.8 86.4 47.8 87.6 48.2 87.6 48.2 89.1 48.4 89.1 48.4 90.1 48.8 90.1 48.8 91.5 49.3 91.5 49.3 93.7 49.7 93.7 49.7 95.5 50.1 95.5 50.1 97.6 50.3 97.6 50.3 98.8 50.5 98.8 50.5 100 50.8 100 50.8 101.1 51.1 101.1 51.1 102.8 51.5 102.8 51.5 104.3 52 104.3 52 106 52.8 106 52.8 106.3 55 106.3 55 107 57.5 107 57.5 107.8 57.8 107.8 57.8 110.1 57.9 110.1 57.9 111.1 58.1 111.1 58.1 112.8 58.2 112.8 58.2 113.7 58.4 113.7 58.4 115.1 58.8 115.1 58.8 116.8 59.2 116.8 59.2 118 59.5 118 59.5 119.3 59.9 119.3 59.9 120.8 60.3 120.8 60.3 122.5 60.7 122.5 60.7 123.9 61 123.9 61 125.4 61.4 125.4 61.4 126.8 61.8 126.8 61.8 128.4 62.1 128.4 62.1 129.8 63.6 129.8 63.6 132 64.4 132 64.4 133.2 65.8 133.2 65.8 135.3 66.2 135.3 66.2 137.1 66.9 137.1 66.9 139.6 67.1 139.6 67.1 140.6 67.4 140.6 67.4 141.8 67.6 141.8 67.6 142.6 68.1 142.6 68.1 144.2 68.6 144.2 68.6 146 69 146 69 147.4 69.3 147.4 69.3 148.4 69.8 148.4 69.8 150.1 70.3 150.1 70.3 151.7 71.9 151.7 71.9 153.6 72.9 153.6 72.9 154.9 74 154.9 74 156.3 79.5 156.3 79.8 156.3 79.8 157.7 80.1 157.7 80.1 158.9 80.4 158.9 80.4 160.3 80.8 160.3 80.8 162.1 81.3 162.1 81.3 164.5 81.7 164.5 81.7 165.8 82.7 165.8 82.7 168.8 83.1 168.8 83.1 170 85.9 170 86.2 170 86.2 171 87 171 87 173.5 87.7 173.5 87.7 175.5 90 175.5 90 177.8 91.4 177.8 91.4 179.2 92.2 179.2 92.2 179.4 93.8 179.4 93.8 179.7 95.9 179.7 95.9 180.1 96.8 180.1 96.8 181.7 97.7 181.7 97.7 183.3 98.3 183.3 98.3 184.3 98.7 184.3 98.7 185.8 99 185.8 99 186.7 99.5 186.7 99.5 188.6 100 188.6 100 190.5 100.5 190.5 100.5 192.2 100.8 192.2 100.8 193.4 108.1 193.4 108.1 198.3 111.7 198.3 111.7 202.6 121.5 202.6 121.5 207.5 146.5 207.5" fill="none" stroke="#66b03f" stroke-width="2.2" stroke-linejoin="miter"/>
<path d="M103.8 191.5v3.8M114.7 200.7v3.8M124.5 205.6v3.8M133.7 205.6v3.8M142.9 205.6v3.8" stroke="#66b03f" stroke-width="0.6" fill="none"/>
</g>
<text x="27.5" y="262.6" font-size="5.8" fill="#1a1a1a">Number at risk</text>
<path d="M13 277.7h10" stroke="#a8142c" stroke-width="3.2"/>
<text x="37.3" y="280.9" font-size="9" text-anchor="middle" fill="#1a1a1a">147</text>
<text x="65.2" y="280.9" font-size="9" text-anchor="middle" fill="#1a1a1a">106</text>
<text x="93" y="280.9" font-size="9" text-anchor="middle" fill="#1a1a1a">66</text>
<text x="120.9" y="280.9" font-size="9" text-anchor="middle" fill="#1a1a1a">29</text>
<text x="148.7" y="280.9" font-size="9" text-anchor="middle" fill="#1a1a1a">15</text>
<text x="176.6" y="280.9" font-size="9" text-anchor="middle" fill="#1a1a1a">6</text>
<text x="204.5" y="280.9" font-size="9" text-anchor="middle" fill="#1a1a1a">1</text>
<text x="232.3" y="280.9" font-size="9" text-anchor="middle" fill="#1a1a1a">0</text>
<path d="M13 294.2h10" stroke="#2f5088" stroke-width="3.2"/>
<text x="37.3" y="297.4" font-size="9" text-anchor="middle" fill="#1a1a1a">353</text>
<text x="65.2" y="297.4" font-size="9" text-anchor="middle" fill="#1a1a1a">213</text>
<text x="93" y="297.4" font-size="9" text-anchor="middle" fill="#1a1a1a">109</text>
<text x="120.9" y="297.4" font-size="9" text-anchor="middle" fill="#1a1a1a">32</text>
<text x="148.7" y="297.4" font-size="9" text-anchor="middle" fill="#1a1a1a">9</text>
<text x="176.6" y="297.4" font-size="9" text-anchor="middle" fill="#1a1a1a">1</text>
<text x="204.5" y="297.4" font-size="9" text-anchor="middle" fill="#1a1a1a">0</text>
<text x="232.3" y="297.4" font-size="9" text-anchor="middle" fill="#1a1a1a">0</text>
<path d="M13 310.5h10" stroke="#481a6c" stroke-width="3.2"/>
<text x="37.3" y="313.7" font-size="9" text-anchor="middle" fill="#1a1a1a">803</text>
<text x="65.2" y="313.7" font-size="9" text-anchor="middle" fill="#1a1a1a">389</text>
<text x="93" y="313.7" font-size="9" text-anchor="middle" fill="#1a1a1a">162</text>
<text x="120.9" y="313.7" font-size="9" text-anchor="middle" fill="#1a1a1a">50</text>
<text x="148.7" y="313.7" font-size="9" text-anchor="middle" fill="#1a1a1a">13</text>
<text x="176.6" y="313.7" font-size="9" text-anchor="middle" fill="#1a1a1a">4</text>
<text x="204.5" y="313.7" font-size="9" text-anchor="middle" fill="#1a1a1a">2</text>
<text x="232.3" y="313.7" font-size="9" text-anchor="middle" fill="#1a1a1a">0</text>
<path d="M13 326.9h10" stroke="#66b03f" stroke-width="3.2"/>
<text x="37.3" y="330.1" font-size="9" text-anchor="middle" fill="#1a1a1a">133</text>
<text x="65.2" y="330.1" font-size="9" text-anchor="middle" fill="#1a1a1a">50</text>
<text x="93" y="330.1" font-size="9" text-anchor="middle" fill="#1a1a1a">11</text>
<text x="120.9" y="330.1" font-size="9" text-anchor="middle" fill="#1a1a1a">4</text>
<text x="148.7" y="330.1" font-size="9" text-anchor="middle" fill="#1a1a1a">0</text>
<text x="176.6" y="330.1" font-size="9" text-anchor="middle" fill="#1a1a1a">0</text>
<text x="204.5" y="330.1" font-size="9" text-anchor="middle" fill="#1a1a1a">0</text>
<text x="232.3" y="330.1" font-size="9" text-anchor="middle" fill="#1a1a1a">0</text>
</g>
<text x="8.8" y="14.6" font-size="18.5" font-weight="bold" fill="#000" stroke="#000" stroke-width="0.5" textLength="12.1" lengthAdjust="spacingAndGlyphs">A</text>
<text x="258.5" y="14.6" font-size="18.5" font-weight="bold" fill="#000" stroke="#000" stroke-width="0.4" textLength="9.8" lengthAdjust="spacingAndGlyphs">B</text>
<text x="9.2" y="364.2" font-size="18.5" font-weight="bold" fill="#000" stroke="#000" stroke-width="0.8" textLength="10.0" lengthAdjust="spacingAndGlyphs">C</text>
<text x="259.4" y="364.3" font-size="18.5" font-weight="bold" fill="#000" stroke="#000" stroke-width="0.6" textLength="11.0" lengthAdjust="spacingAndGlyphs">D</text>
</svg></body></html>
